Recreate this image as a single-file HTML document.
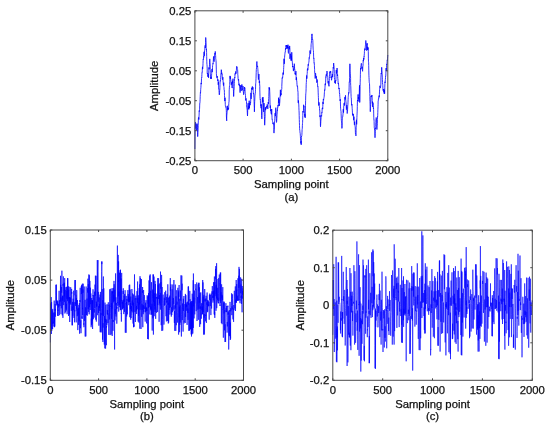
<!DOCTYPE html>
<html><head><meta charset="utf-8"><style>
html,body{margin:0;padding:0;background:#fff;width:550px;height:430px;overflow:hidden}
svg{display:block}
text{font-family:"Liberation Sans", Arial, sans-serif;font-size:11.3px;fill:#111;stroke:#111;stroke-width:0.25px}
</style></head><body>
<svg width="550" height="430" viewBox="0 0 550 430">
<rect width="550" height="430" fill="#fff"/>
<polyline points="194.9,149.0 195.0,136.4 195.1,127.7 195.2,125.8 195.3,125.0 195.4,123.6 195.5,122.2 195.6,123.0 195.7,126.0 195.8,128.6 195.9,126.8 196.0,124.6 196.1,124.0 196.2,123.8 196.2,124.4 196.3,126.3 196.4,128.4 196.5,129.8 196.6,130.3 196.7,129.1 196.8,128.8 196.9,128.9 197.0,127.0 197.1,124.4 197.2,123.7 197.3,124.6 197.4,127.7 197.5,129.9 197.6,132.8 197.7,136.6 197.8,134.3 197.9,132.2 198.0,131.2 198.1,128.9 198.2,125.5 198.3,120.9 198.4,118.7 198.5,119.0 198.6,118.1 198.7,117.3 198.8,118.9 198.9,119.5 198.9,117.7 199.1,115.1 199.2,111.7 199.2,110.7 199.3,111.6 199.4,111.0 199.5,109.7 199.6,108.1 199.7,105.1 199.8,103.0 199.9,102.8 200.0,101.8 200.1,99.2 200.2,96.7 200.3,94.4 200.4,92.5 200.5,93.1 200.6,92.2 200.7,89.5 200.8,88.2 200.9,87.5 201.0,85.8 201.1,83.1 201.2,82.8 201.3,84.1 201.4,82.5 201.5,78.6 201.6,77.5 201.7,77.8 201.8,77.6 201.8,76.7 201.9,74.4 202.0,72.7 202.1,72.3 202.2,72.5 202.3,70.6 202.4,67.6 202.5,66.8 202.6,68.6 202.7,69.0 202.8,67.8 202.9,66.2 203.0,63.7 203.1,60.8 203.2,59.2 203.3,59.6 203.4,59.7 203.5,57.6 203.6,56.4 203.7,56.9 203.8,57.4 203.9,56.1 204.0,53.0 204.1,51.8 204.2,53.9 204.3,55.9 204.4,55.0 204.4,52.8 204.6,50.9 204.7,50.0 204.7,49.3 204.8,48.3 204.9,46.5 205.0,45.6 205.1,45.4 205.2,45.5 205.3,46.5 205.4,47.9 205.5,46.7 205.6,42.4 205.7,37.5 205.8,38.3 205.9,40.8 206.0,42.3 206.1,43.8 206.2,47.7 206.3,49.7 206.4,49.0 206.5,49.6 206.6,52.5 206.7,56.7 206.8,61.2 206.9,64.1 207.0,64.8 207.1,66.2 207.2,68.9 207.2,72.0 207.3,73.9 207.4,74.1 207.5,73.5 207.6,73.2 207.7,74.6 207.8,76.8 207.9,76.7 208.0,75.1 208.1,74.5 208.2,74.6 208.3,73.8 208.4,74.3 208.5,77.2 208.6,77.8 208.7,74.3 208.8,70.2 208.9,67.7 209.0,67.4 209.1,68.9 209.2,69.3 209.3,67.8 209.4,66.3 209.5,64.7 209.6,62.2 209.7,59.6 209.8,58.9 209.9,60.5 209.9,62.1 210.1,63.8 210.2,66.2 210.2,69.5 210.3,72.7 210.4,73.5 210.5,74.7 210.6,76.9 210.7,78.7 210.8,78.3 210.9,76.8 211.0,77.8 211.1,79.0 211.2,78.6 211.3,78.8 211.4,78.4 211.5,76.8 211.6,75.2 211.7,73.5 211.8,70.8 211.9,69.2 212.0,69.2 212.1,69.8 212.2,71.5 212.3,72.1 212.4,70.8 212.5,67.7 212.6,65.5 212.7,65.3 212.8,64.9 212.8,63.8 212.9,63.5 213.0,64.0 213.1,64.0 213.2,62.6 213.3,61.2 213.4,59.0 213.5,56.9 213.6,56.4 213.7,57.0 213.8,59.0 213.9,60.6 214.0,60.7 214.1,61.3 214.2,61.6 214.3,60.2 214.4,58.2 214.5,55.9 214.6,54.3 214.7,53.9 214.8,53.2 214.9,53.8 215.0,54.4 215.1,53.9 215.2,51.7 215.3,51.4 215.4,52.8 215.4,54.1 215.6,55.5 215.7,57.2 215.7,58.3 215.8,59.0 215.9,59.5 216.0,60.7 216.1,62.0 216.2,65.0 216.3,69.1 216.4,73.7 216.5,75.5 216.6,75.3 216.7,76.7 216.8,77.2 216.9,77.3 217.0,77.9 217.1,77.0 217.2,76.0 217.3,77.2 217.4,78.7 217.5,78.8 217.6,78.9 217.7,80.6 217.8,81.0 217.9,79.6 218.0,79.5 218.1,80.8 218.2,82.8 218.2,84.7 218.3,83.8 218.4,81.8 218.5,82.3 218.6,86.0 218.7,89.1 218.8,89.1 218.9,89.1 219.0,90.5 219.1,92.6 219.2,94.5 219.3,94.3 219.4,94.8 219.5,94.5 219.6,92.2 219.7,90.5 219.8,90.0 219.9,87.8 220.0,84.4 220.1,81.6 220.2,80.6 220.3,81.2 220.4,81.3 220.5,80.7 220.6,79.7 220.7,77.8 220.8,76.0 220.9,75.1 220.9,73.8 221.1,72.5 221.2,72.3 221.2,71.6 221.3,69.7 221.4,70.0 221.5,72.4 221.6,74.0 221.7,73.1 221.8,72.7 221.9,73.8 222.0,74.3 222.1,74.0 222.2,76.0 222.3,78.0 222.4,78.5 222.5,79.7 222.6,79.6 222.7,78.4 222.8,77.5 222.9,77.2 223.0,79.3 223.1,82.0 223.2,82.8 223.3,84.4 223.4,85.3 223.5,85.5 223.6,84.0 223.7,82.6 223.8,84.3 223.8,86.4 223.9,86.6 224.0,87.6 224.1,89.7 224.2,89.9 224.3,89.9 224.4,92.4 224.5,95.5 224.6,97.4 224.7,99.8 224.8,101.1 224.9,99.6 225.0,97.7 225.1,98.4 225.2,101.5 225.3,104.5 225.4,105.8 225.5,106.1 225.6,106.4 225.7,107.0 225.8,107.3 225.9,107.1 226.0,106.6 226.1,107.3 226.2,109.0 226.3,110.5 226.4,112.7 226.4,116.1 226.6,119.4 226.7,120.8 226.7,118.6 226.8,115.5 226.9,114.7 227.0,113.7 227.1,112.5 227.2,111.4 227.3,108.0 227.4,105.8 227.5,107.8 227.6,109.9 227.7,110.2 227.8,108.4 227.9,107.8 228.0,108.6 228.1,108.1 228.2,108.7 228.3,109.7 228.4,108.7 228.5,108.1 228.6,108.6 228.7,106.2 228.8,103.5 228.9,102.2 229.0,101.9 229.1,99.9 229.2,95.0 229.2,91.0 229.3,89.2 229.4,87.2 229.5,85.8 229.6,85.6 229.7,84.6 229.8,81.8 229.9,78.4 230.0,75.9 230.1,77.0 230.2,78.7 230.3,77.8 230.4,76.5 230.5,77.2 230.6,79.2 230.7,79.6 230.8,79.6 230.9,81.2 231.0,82.5 231.1,82.8 231.2,83.4 231.3,84.8 231.4,84.4 231.5,82.9 231.6,82.3 231.7,83.3 231.8,84.6 231.9,85.4 232.0,86.6 232.1,87.8 232.2,88.0 232.2,86.2 232.3,82.8 232.4,80.8 232.5,82.0 232.6,83.4 232.7,83.0 232.8,81.8 232.9,80.0 233.0,78.7 233.1,81.9 233.2,86.5 233.3,88.8 233.4,89.6 233.5,91.8 233.6,96.5 233.7,96.3 233.8,93.5 233.9,90.7 234.0,90.1 234.1,89.0 234.2,86.2 234.3,83.3 234.4,81.3 234.5,80.0 234.6,78.4 234.7,77.4 234.8,78.0 234.8,78.1 234.9,76.4 235.0,73.7 235.1,73.8 235.2,74.3 235.3,73.5 235.4,73.6 235.5,73.9 235.6,72.9 235.7,71.5 235.8,71.9 235.9,73.5 236.0,73.7 236.1,72.2 236.2,71.2 236.3,71.2 236.4,70.3 236.5,67.8 236.6,66.5 236.7,66.8 236.8,66.5 236.9,66.9 237.0,68.0 237.1,68.0 237.2,67.7 237.3,68.3 237.4,68.6 237.5,69.3 237.6,69.5 237.7,71.0 237.8,73.8 237.8,74.8 237.9,75.2 238.0,77.0 238.1,78.6 238.2,79.3 238.3,80.1 238.4,80.5 238.5,79.5 238.6,79.1 238.7,80.8 238.8,83.6 238.9,85.2 239.0,85.0 239.1,83.9 239.2,83.7 239.3,84.5 239.4,85.0 239.5,86.0 239.6,86.0 239.7,85.1 239.8,85.6 239.9,88.1 240.0,91.6 240.1,92.6 240.2,89.9 240.2,86.6 240.3,85.3 240.4,87.0 240.5,88.2 240.6,88.5 240.7,88.8 240.8,88.4 240.9,89.1 241.0,90.0 241.1,89.8 241.2,90.9 241.3,90.1 241.4,86.8 241.5,85.7 241.6,86.8 241.7,86.2 241.8,84.6 241.9,84.4 242.0,85.0 242.1,86.1 242.2,87.5 242.3,88.8 242.4,90.2 242.5,90.2 242.6,89.5 242.7,89.5 242.8,89.2 242.9,87.2 243.0,86.1 243.1,87.7 243.2,89.9 243.2,91.4 243.3,91.5 243.4,91.9 243.5,93.4 243.6,94.7 243.7,94.1 243.8,93.3 243.9,92.1 244.0,91.0 244.1,90.5 244.2,90.3 244.3,90.9 244.4,90.7 244.5,88.3 244.6,87.0 244.7,88.1 244.8,88.8 244.9,88.4 245.0,89.4 245.1,91.9 245.2,93.8 245.3,94.2 245.4,94.2 245.5,95.6 245.6,98.4 245.7,100.4 245.8,100.3 245.8,99.7 245.9,99.1 246.0,98.3 246.1,98.7 246.2,99.9 246.3,100.9 246.4,100.8 246.5,101.6 246.6,104.7 246.7,107.1 246.8,107.0 246.9,107.6 247.0,108.9 247.1,109.5 247.2,110.2 247.3,112.6 247.4,114.5 247.5,115.9 247.6,113.9 247.7,110.1 247.8,107.8 247.9,105.2 248.0,103.7 248.1,103.2 248.2,103.2 248.3,104.4 248.4,107.5 248.5,109.1 248.6,108.5 248.7,107.7 248.8,106.3 248.8,107.1 248.9,109.4 249.0,107.5 249.1,102.4 249.2,100.7 249.3,104.6 249.4,108.0 249.5,107.0 249.6,105.4 249.7,104.0 249.8,102.9 249.9,103.8 250.0,105.1 250.1,105.1 250.2,104.2 250.3,103.4 250.4,102.5 250.5,102.0 250.6,102.6 250.7,100.9 250.8,96.1 250.9,92.9 251.0,94.3 251.1,97.2 251.2,98.8 251.2,97.7 251.3,93.2 251.4,90.8 251.5,89.5 251.6,87.8 251.7,88.2 251.8,88.6 251.9,89.2 252.0,89.7 252.1,89.5 252.2,88.2 252.3,86.5 252.4,86.5 252.5,87.3 252.6,88.5 252.7,89.4 252.8,88.3 252.9,87.2 253.0,87.8 253.1,89.6 253.2,91.2 253.3,92.2 253.4,93.7 253.5,93.9 253.6,93.2 253.7,93.6 253.8,95.9 253.9,97.3 254.0,98.3 254.1,101.9 254.2,104.8 254.2,105.5 254.3,107.3 254.4,111.8 254.5,108.6 254.6,104.0 254.7,101.6 254.8,99.9 254.9,97.0 255.0,94.8 255.1,94.9 255.2,94.4 255.3,93.4 255.4,91.9 255.5,89.7 255.6,86.1 255.7,83.3 255.8,82.6 255.9,81.2 256.0,78.5 256.1,76.0 256.2,72.7 256.3,69.8 256.4,69.2 256.5,67.8 256.6,66.7 256.7,65.2 256.8,63.2 256.9,61.5 256.9,63.0 257.0,65.8 257.1,66.7 257.2,66.5 257.3,66.7 257.4,66.7 257.5,65.8 257.6,66.2 257.7,67.7 257.8,68.6 257.9,69.7 258.0,71.4 258.1,73.0 258.2,75.2 258.3,78.2 258.4,79.6 258.5,79.2 258.6,77.3 258.7,75.2 258.8,74.1 258.9,74.0 259.0,74.2 259.1,76.8 259.2,80.9 259.3,83.1 259.4,82.2 259.5,80.8 259.6,81.9 259.6,83.8 259.8,86.4 259.8,89.1 259.9,92.9 260.0,96.7 260.1,98.4 260.2,99.3 260.3,99.0 260.4,100.2 260.5,103.8 260.6,105.8 260.7,105.5 260.8,105.4 260.9,106.7 261.0,107.6 261.1,108.2 261.2,106.7 261.3,104.3 261.4,106.5 261.5,111.1 261.6,115.3 261.7,117.7 261.8,118.7 261.9,118.9 262.0,115.2 262.1,109.9 262.2,103.8 262.3,99.5 262.4,97.7 262.4,98.3 262.6,100.0 262.6,101.6 262.7,102.2 262.8,99.9 262.9,97.0 263.0,97.2 263.1,98.2 263.2,99.4 263.3,99.9 263.4,102.4 263.5,107.2 263.6,110.7 263.7,111.9 263.8,109.0 263.9,106.8 264.0,103.1 264.1,103.9 264.2,110.8 264.3,114.2 264.4,116.3 264.5,119.8 264.6,124.2 264.7,125.2 264.8,123.2 264.9,121.0 265.0,118.6 265.1,116.3 265.1,113.1 265.2,110.8 265.3,109.7 265.4,108.6 265.5,107.7 265.6,110.2 265.7,108.6 265.8,107.1 265.9,106.9 266.0,107.7 266.1,108.6 266.2,108.4 266.3,107.9 266.4,107.0 266.5,106.5 266.6,106.5 266.7,106.0 266.8,106.7 266.9,107.2 267.0,106.1 267.1,104.9 267.2,104.4 267.3,104.6 267.4,105.3 267.5,106.2 267.6,106.8 267.7,108.1 267.8,108.9 267.9,107.8 267.9,105.9 268.1,104.6 268.1,103.3 268.2,102.0 268.3,102.2 268.4,103.4 268.5,103.9 268.6,101.3 268.7,98.5 268.8,96.6 268.9,92.9 269.0,89.6 269.1,87.4 269.2,87.2 269.3,88.8 269.4,89.5 269.5,87.9 269.6,88.6 269.7,91.2 269.8,94.0 269.9,97.1 270.0,102.1 270.1,106.2 270.2,107.9 270.3,107.4 270.4,105.6 270.5,106.5 270.6,110.1 270.6,110.9 270.8,109.6 270.8,110.3 270.9,112.1 271.0,113.1 271.1,113.2 271.2,113.1 271.3,113.9 271.4,114.3 271.5,112.9 271.6,110.0 271.7,109.0 271.8,111.1 271.9,114.0 272.0,117.3 272.1,119.6 272.2,119.6 272.3,119.4 272.4,120.4 272.5,121.3 272.6,121.4 272.7,122.5 272.8,123.5 272.9,124.0 273.0,124.0 273.1,123.6 273.2,123.6 273.3,122.9 273.4,122.6 273.4,123.9 273.6,125.7 273.6,126.5 273.7,127.3 273.8,129.1 273.9,132.6 274.0,133.1 274.1,131.7 274.2,130.6 274.3,129.7 274.4,128.0 274.5,124.0 274.6,121.1 274.7,120.8 274.8,118.8 274.9,115.8 275.0,113.9 275.1,113.1 275.2,113.5 275.3,114.7 275.4,116.1 275.5,114.3 275.6,110.2 275.7,108.2 275.8,107.7 275.9,108.7 276.0,111.2 276.1,112.9 276.1,113.5 276.2,115.3 276.3,118.6 276.4,121.6 276.5,122.4 276.6,121.8 276.7,121.0 276.8,118.8 276.9,117.1 277.0,115.7 277.1,114.4 277.2,112.0 277.3,110.7 277.4,111.0 277.5,110.0 277.6,107.5 277.7,106.8 277.8,107.3 277.9,106.7 278.0,105.4 278.1,105.0 278.2,105.7 278.3,106.1 278.4,103.6 278.5,99.3 278.6,97.7 278.7,100.5 278.8,103.0 278.9,103.1 278.9,101.9 279.1,99.7 279.1,99.2 279.2,102.5 279.3,105.1 279.4,106.0 279.5,105.4 279.6,103.8 279.7,103.0 279.8,101.8 279.9,99.2 280.0,96.9 280.1,96.4 280.2,96.2 280.3,93.6 280.4,89.8 280.5,96.2 280.6,96.3 280.7,96.2 280.8,93.7 280.9,93.1 281.0,94.7 281.1,95.0 281.2,93.6 281.3,92.9 281.4,92.4 281.5,91.3 281.6,90.3 281.6,89.7 281.8,88.5 281.8,86.6 281.9,84.0 282.0,82.0 282.1,79.2 282.2,77.8 282.3,78.3 282.4,78.0 282.5,77.2 282.6,77.0 282.7,77.3 282.8,75.3 282.9,73.1 283.0,73.3 283.1,73.3 283.2,72.4 283.3,73.4 283.4,74.5 283.5,72.7 283.6,69.6 283.7,67.6 283.8,65.6 283.9,61.6 284.0,58.8 284.1,59.7 284.2,62.2 284.3,63.8 284.4,62.0 284.4,58.6 284.6,57.3 284.6,57.2 284.7,55.9 284.8,54.5 284.9,53.9 285.0,53.2 285.1,52.3 285.2,52.0 285.3,52.1 285.4,50.2 285.5,48.4 285.6,49.4 285.7,49.1 285.8,47.4 285.9,45.6 286.0,45.1 286.1,45.3 286.2,45.4 286.3,46.5 286.4,46.1 286.5,45.2 286.6,46.3 286.7,48.4 286.8,49.0 286.9,48.3 287.0,47.7 287.1,46.5 287.1,45.2 287.2,46.0 287.4,47.8 287.4,47.4 287.5,46.2 287.6,46.6 287.7,48.4 287.8,48.4 287.9,46.0 288.0,44.7 288.1,47.2 288.2,50.8 288.3,52.5 288.4,53.3 288.5,53.4 288.6,52.6 288.7,51.1 288.8,49.0 288.9,46.8 289.0,46.7 289.1,47.8 289.2,47.7 289.3,48.0 289.4,49.3 289.5,47.9 289.6,45.9 289.7,46.1 289.8,47.8 289.9,48.7 289.9,58.8 290.1,56.9 290.1,54.4 290.2,53.7 290.3,54.2 290.4,54.7 290.5,54.2 290.6,54.5 290.7,57.7 290.8,58.5 290.9,58.8 291.0,60.5 291.1,60.7 291.2,58.2 291.3,55.7 291.4,57.5 291.5,60.4 291.6,59.8 291.7,52.3 291.8,52.3 291.9,57.0 292.0,59.3 292.1,59.5 292.2,60.6 292.3,61.8 292.4,62.9 292.5,65.3 292.6,66.8 292.6,66.1 292.8,67.2 292.9,66.6 292.9,66.3 293.0,66.7 293.1,66.6 293.2,67.6 293.3,70.0 293.4,71.1 293.5,70.5 293.6,69.5 293.7,68.8 293.8,69.5 293.9,69.8 294.0,69.1 294.1,67.9 294.2,65.4 294.3,63.7 294.4,64.6 294.5,66.4 294.6,68.6 294.7,69.2 294.8,69.2 294.9,70.9 295.0,73.4 295.1,74.3 295.2,73.7 295.3,73.1 295.4,72.8 295.4,73.4 295.6,74.5 295.6,74.8 295.7,74.1 295.8,72.3 295.9,71.1 296.0,72.3 296.1,76.2 296.2,79.9 296.3,80.1 296.4,77.6 296.5,77.4 296.6,80.0 296.7,80.8 296.8,80.9 296.9,82.8 297.0,84.7 297.1,85.9 297.2,86.3 297.3,86.2 297.4,86.1 297.5,85.8 297.6,87.0 297.7,89.2 297.8,90.9 297.9,90.9 298.0,92.3 298.1,96.8 298.1,101.0 298.2,102.9 298.4,102.2 298.4,100.4 298.5,100.9 298.6,102.9 298.7,104.0 298.8,104.9 298.9,107.8 299.0,110.5 299.1,112.0 299.2,115.5 299.3,119.6 299.4,122.5 299.5,125.6 299.6,128.3 299.7,130.0 299.8,130.4 299.9,131.4 300.0,132.8 300.1,132.8 300.2,133.4 300.3,135.1 300.4,136.6 300.5,138.8 300.6,140.6 300.7,141.1 300.8,142.0 300.9,143.4 300.9,142.9 301.1,141.2 301.1,142.5 301.2,144.8 301.3,142.2 301.4,137.7 301.5,136.0 301.6,136.2 301.7,135.8 301.8,135.6 301.9,134.8 302.0,132.2 302.1,129.6 302.2,129.3 302.3,128.2 302.4,125.3 302.5,123.6 302.6,122.3 302.7,119.3 302.8,115.3 302.9,111.9 303.0,111.0 303.1,112.0 303.2,112.4 303.3,111.7 303.4,110.9 303.5,109.0 303.6,106.2 303.6,104.8 303.8,105.8 303.9,107.1 303.9,107.0 304.0,106.4 304.1,107.0 304.2,108.7 304.3,110.8 304.4,112.0 304.5,113.4 304.6,115.2 304.7,116.7 304.8,116.5 304.9,114.1 305.0,113.9 305.1,117.9 305.2,117.8 305.3,114.6 305.4,110.0 305.5,105.5 305.6,100.5 305.7,95.9 305.8,93.8 305.9,92.7 306.0,91.2 306.1,88.7 306.2,84.3 306.3,82.5 306.4,82.4 306.4,79.8 306.6,76.7 306.6,75.5 306.7,76.9 306.8,78.7 306.9,78.0 307.0,75.9 307.1,74.3 307.2,73.5 307.3,71.5 307.4,69.1 307.5,68.5 307.6,69.7 307.7,70.3 307.8,69.6 307.9,69.8 308.0,69.1 308.1,65.9 308.2,64.3 308.3,65.5 308.4,65.5 308.5,64.3 308.6,63.4 308.7,62.7 308.8,62.4 308.9,61.8 309.0,60.6 309.1,58.5 309.1,57.6 309.2,58.0 309.4,58.4 309.4,58.4 309.5,57.4 309.6,56.1 309.7,55.2 309.8,53.3 309.9,51.1 310.0,50.5 310.1,51.0 310.2,51.9 310.3,53.2 310.4,53.8 310.5,53.9 310.6,53.7 310.7,51.9 310.8,49.9 310.9,49.3 311.0,47.5 311.1,44.7 311.2,43.7 311.3,43.3 311.4,42.0 311.5,40.6 311.6,38.8 311.7,36.6 311.8,34.3 311.9,33.9 311.9,34.3 312.1,34.2 312.1,34.1 312.2,36.5 312.3,39.1 312.4,39.4 312.5,39.0 312.6,39.5 312.7,39.5 312.8,40.5 312.9,42.9 313.0,45.9 313.1,48.1 313.2,49.4 313.3,50.3 313.4,50.5 313.5,52.3 313.6,56.1 313.7,58.5 313.8,58.0 313.9,58.3 314.0,61.5 314.1,63.2 314.2,62.8 314.3,63.3 314.4,65.4 314.5,68.0 314.6,69.4 314.6,70.8 314.8,73.4 314.9,73.8 314.9,73.7 315.0,74.7 315.1,76.7 315.2,78.5 315.3,77.4 315.4,74.7 315.5,73.2 315.6,73.3 315.7,74.2 315.8,75.3 315.9,76.3 316.0,78.0 316.1,78.1 316.2,78.1 316.3,77.8 316.4,76.3 316.5,77.5 316.6,80.4 316.7,81.9 316.8,82.6 316.9,82.7 317.0,81.9 317.1,80.8 317.2,79.5 317.3,80.3 317.4,82.6 317.4,82.8 317.6,83.8 317.6,86.3 317.7,86.5 317.8,86.0 317.9,86.5 318.0,88.0 318.1,90.0 318.2,92.9 318.3,95.3 318.4,97.4 318.5,100.1 318.6,103.2 318.7,105.5 318.8,104.5 318.9,102.6 319.0,102.6 319.1,102.4 319.2,103.2 319.3,105.5 319.4,106.8 319.5,108.4 319.6,110.0 319.7,110.0 319.8,111.0 319.9,114.3 320.0,117.0 320.1,116.6 320.1,115.4 320.2,116.9 320.4,121.1 320.4,125.2 320.5,126.7 320.6,125.4 320.7,123.8 320.8,121.7 320.9,120.5 321.0,119.1 321.1,117.2 321.2,116.8 321.3,116.3 321.4,115.5 321.5,116.1 321.6,116.3 321.7,114.7 321.8,112.3 321.9,112.2 322.0,112.7 322.1,110.9 322.2,108.4 322.3,108.2 322.4,108.4 322.5,107.8 322.6,108.4 322.7,109.1 322.8,106.6 322.9,103.5 322.9,101.9 323.1,102.8 323.1,104.0 323.2,102.3 323.3,99.7 323.4,99.0 323.5,100.1 323.6,100.2 323.7,99.2 323.8,98.5 323.9,97.7 324.0,97.5 324.1,97.4 324.2,96.2 324.3,94.1 324.4,92.8 324.5,91.4 324.6,89.7 324.7,89.7 324.8,90.3 324.9,89.6 325.0,87.3 325.1,85.3 325.2,83.7 325.3,85.2 325.4,84.7 325.5,84.4 325.6,82.7 325.7,80.0 325.8,77.7 325.9,76.7 325.9,77.4 326.0,77.0 326.1,75.6 326.2,74.5 326.3,74.9 326.4,75.8 326.5,75.0 326.6,73.3 326.7,73.0 326.8,72.2 326.9,71.1 327.0,71.0 327.1,71.3 327.2,71.6 327.3,72.6 327.4,74.4 327.5,75.5 327.6,75.5 327.7,75.7 327.8,77.6 327.9,80.7 328.0,82.9 328.1,83.3 328.2,83.4 328.3,82.0 328.4,81.1 328.4,81.6 328.6,82.3 328.6,83.9 328.7,85.1 328.8,85.0 328.9,85.7 329.0,86.3 329.1,84.3 329.2,82.0 329.3,80.4 329.4,78.4 329.5,76.5 329.6,74.1 329.7,72.2 329.8,72.1 329.9,71.5 330.0,71.5 330.1,73.0 330.2,73.0 330.3,72.2 330.4,72.2 330.5,71.6 330.6,71.0 330.7,71.0 330.8,72.6 330.9,75.1 331.0,76.5 331.1,77.6 331.2,78.0 331.2,77.1 331.4,76.5 331.4,78.2 331.5,80.2 331.6,80.2 331.7,79.2 331.8,78.5 331.9,78.3 332.0,78.0 332.1,77.0 332.2,75.4 332.3,74.1 332.4,74.2 332.5,75.8 332.6,77.0 332.7,75.8 332.8,73.1 332.9,71.2 333.0,70.8 333.1,69.3 333.2,67.3 333.3,67.7 333.4,68.3 333.5,66.4 333.6,63.1 333.7,63.2 333.8,64.9 333.9,65.1 333.9,65.8 334.1,67.0 334.1,67.8 334.2,69.6 334.3,73.6 334.4,77.6 334.5,79.1 334.6,79.3 334.7,80.2 334.8,82.2 334.9,83.0 335.0,82.1 335.1,80.8 335.2,81.1 335.3,82.1 335.4,83.6 335.5,82.2 335.6,80.4 335.7,80.6 335.8,81.0 335.9,79.6 336.0,76.7 336.1,73.3 336.2,70.8 336.3,70.0 336.4,71.5 336.5,73.5 336.6,73.2 336.7,71.6 336.8,70.8 336.9,71.3 336.9,70.2 337.0,68.0 337.1,68.1 337.2,70.1 337.3,73.2 337.4,75.8 337.5,75.6 337.6,74.7 337.7,76.4 337.8,78.6 337.9,79.0 338.0,80.4 338.1,82.5 338.2,83.8 338.3,83.4 338.4,82.9 338.5,83.8 338.6,85.1 338.7,86.5 338.8,87.9 338.9,89.1 339.0,88.7 339.1,88.0 339.2,88.1 339.3,89.4 339.4,91.1 339.4,92.8 339.6,93.8 339.6,93.5 339.7,94.5 339.8,96.6 339.9,97.3 340.0,98.5 340.1,101.0 340.2,100.7 340.3,99.3 340.4,101.9 340.5,106.1 340.6,108.2 340.7,109.2 340.8,110.5 340.9,110.5 341.0,111.3 341.1,113.5 341.2,116.0 341.3,118.7 341.4,120.6 341.5,121.8 341.6,122.8 341.7,123.2 341.8,125.2 341.9,128.4 342.0,128.1 342.1,125.8 342.2,123.0 342.2,120.9 342.4,119.8 342.4,118.7 342.5,117.3 342.6,116.8 342.7,116.9 342.8,116.1 342.9,115.0 343.0,114.2 343.1,112.5 343.2,109.5 343.3,109.2 343.4,112.0 343.5,112.6 343.6,110.5 343.7,108.0 343.8,105.3 343.9,103.8 344.0,103.5 344.1,103.1 344.2,103.2 344.3,102.9 344.4,103.9 344.5,105.5 344.6,104.4 344.7,101.3 344.8,99.2 344.9,97.2 344.9,97.1 345.1,98.8 345.1,99.5 345.2,98.4 345.3,97.7 345.4,96.5 345.5,95.4 345.6,96.9 345.7,99.7 345.8,100.5 345.9,101.3 346.0,102.0 346.1,102.8 346.2,105.7 346.3,108.5 346.4,109.6 346.5,108.7 346.6,106.5 346.7,105.2 346.8,105.2 346.9,106.0 347.0,108.5 347.1,112.0 347.2,113.5 347.3,112.8 347.4,112.2 347.5,111.5 347.6,109.3 347.7,106.8 347.8,105.2 347.9,105.2 347.9,104.3 348.0,102.1 348.1,99.5 348.2,97.5 348.3,96.3 348.4,95.2 348.5,93.9 348.6,92.5 348.7,92.6 348.8,93.3 348.9,93.3 349.0,91.5 349.1,87.9 349.2,83.9 349.3,81.8 349.4,82.2 349.5,81.9 349.6,77.3 349.7,70.0 349.8,66.0 349.9,63.8 350.0,65.7 350.1,69.2 350.2,71.9 350.3,73.8 350.4,75.1 350.5,76.1 350.6,78.5 350.6,82.4 350.7,85.4 350.8,86.9 350.9,90.0 351.0,93.8 351.1,96.3 351.2,97.7 351.3,98.0 351.4,99.9 351.5,103.0 351.6,105.2 351.7,105.3 351.8,104.8 351.9,104.2 352.0,105.1 352.1,107.1 352.2,108.7 352.3,110.1 352.4,112.1 352.5,114.5 352.6,114.8 352.7,113.8 352.8,114.9 352.9,115.6 353.0,115.7 353.1,116.1 353.2,115.6 353.2,114.2 353.4,113.9 353.4,115.3 353.5,117.8 353.6,119.8 353.7,120.2 353.8,118.9 353.9,116.9 354.0,116.7 354.1,119.2 354.2,121.7 354.3,123.6 354.4,124.7 354.5,123.7 354.6,121.8 354.7,121.6 354.8,124.0 354.9,125.7 355.0,126.1 355.1,126.6 355.2,126.9 355.3,129.3 355.4,132.8 355.5,134.2 355.6,134.3 355.7,134.5 355.8,134.9 355.9,135.9 356.0,135.3 356.1,132.9 356.1,130.2 356.2,127.3 356.3,123.3 356.4,119.8 356.5,120.5 356.6,124.0 356.7,124.3 356.8,120.7 356.9,117.6 357.0,115.3 357.1,113.1 357.2,111.1 357.3,106.7 357.4,101.9 357.5,99.9 357.6,101.1 357.7,101.0 357.8,99.3 357.9,96.4 358.0,94.9 358.1,94.4 358.2,95.0 358.3,96.9 358.4,98.9 358.5,98.0 358.6,97.1 358.7,98.7 358.8,100.7 358.9,101.3 358.9,101.6 359.0,99.9 359.1,96.2 359.2,94.6 359.3,92.5 359.4,88.3 359.5,85.3 359.6,91.9 359.7,102.5 359.8,101.5 359.9,96.0 360.0,91.0 360.1,86.3 360.2,82.2 360.3,78.6 360.4,74.3 360.5,68.7 360.6,68.0 360.7,69.4 360.8,68.3 360.9,66.0 361.0,65.5 361.1,65.3 361.2,64.0 361.3,63.3 361.4,63.4 361.5,63.7 361.6,64.3 361.6,65.6 361.8,66.7 361.8,67.6 361.9,68.5 362.0,67.6 362.1,66.9 362.2,68.2 362.3,69.5 362.4,69.6 362.5,70.5 362.6,71.3 362.7,69.4 362.8,67.1 362.9,66.2 363.0,65.8 363.1,63.5 363.2,60.6 363.3,59.9 363.4,61.2 363.5,60.5 363.6,58.0 363.7,58.0 363.8,59.6 363.9,59.1 364.0,56.7 364.1,56.3 364.2,56.7 364.2,55.2 364.4,53.2 364.4,51.5 364.5,50.5 364.6,50.8 364.7,50.1 364.8,48.6 364.9,49.1 365.0,50.0 365.1,49.3 365.2,47.8 365.3,46.5 365.4,45.7 365.5,44.9 365.6,44.2 365.7,41.6 365.8,40.5 365.9,41.0 366.0,42.3 366.1,43.4 366.2,44.7 366.3,46.9 366.4,49.6 366.5,50.5 366.6,49.7 366.7,48.6 366.8,46.0 366.9,44.1 367.0,44.3 367.1,44.5 367.1,43.1 367.2,43.8 367.3,47.4 367.4,50.1 367.5,49.0 367.6,46.8 367.7,47.8 367.8,49.6 367.9,48.9 368.0,47.6 368.1,47.5 368.2,48.1 368.3,51.6 368.4,58.9 368.5,61.8 368.6,62.2 368.7,65.4 368.8,70.9 368.9,75.2 369.0,77.5 369.1,79.2 369.2,81.2 369.3,82.8 369.4,82.9 369.5,83.4 369.6,86.1 369.7,89.9 369.8,93.5 369.9,96.4 369.9,99.1 370.0,101.3 370.1,104.0 370.2,108.6 370.3,111.7 370.4,109.0 370.5,107.1 370.6,106.3 370.7,104.6 370.8,102.0 370.9,99.1 371.0,96.6 371.1,95.9 371.2,97.0 371.3,97.0 371.4,95.8 371.5,95.9 371.6,96.5 371.7,96.1 371.8,95.5 371.9,95.0 372.0,95.0 372.1,97.1 372.2,100.5 372.3,103.3 372.4,103.0 372.5,101.7 372.6,103.2 372.6,106.1 372.8,107.0 372.8,105.3 372.9,103.4 373.0,102.7 373.1,103.9 373.2,105.6 373.3,107.4 373.4,108.5 373.5,107.7 373.6,109.4 373.7,113.9 373.8,117.8 373.9,119.8 374.0,119.7 374.1,121.4 374.2,125.2 374.3,127.9 374.4,128.1 374.5,129.0 374.6,130.2 374.7,130.2 374.8,132.0 374.9,135.8 375.0,137.7 375.1,136.3 375.2,133.7 375.3,131.5 375.4,129.3 375.4,128.2 375.5,128.7 375.6,128.9 375.7,126.5 375.8,122.6 375.9,119.9 376.0,118.9 376.1,117.9 376.2,117.5 376.3,117.9 376.4,118.1 376.5,118.6 376.6,121.0 376.7,124.8 376.8,128.2 376.9,129.5 377.0,127.5 377.1,126.3 377.2,125.5 377.3,123.6 377.4,119.4 377.5,116.7 377.6,117.0 377.7,115.8 377.8,112.4 377.9,109.2 378.0,106.8 378.1,104.2 378.1,101.9 378.2,100.8 378.3,100.8 378.4,99.3 378.5,98.7 378.6,99.2 378.7,98.4 378.8,97.0 378.9,96.5 379.0,96.2 379.1,95.6 379.2,96.5 379.3,97.2 379.4,94.7 379.5,91.1 379.6,89.4 379.7,88.9 379.8,87.2 379.9,85.8 380.0,86.0 380.1,86.9 380.2,87.6 380.3,87.6 380.4,87.9 380.5,87.0 380.6,86.6 380.7,86.1 380.8,84.8 380.9,82.1 380.9,77.8 381.1,74.7 381.1,73.8 381.2,73.1 381.3,73.6 381.4,74.1 381.5,72.2 381.6,69.2 381.7,67.3 381.8,69.1 381.9,70.4 382.0,71.3 382.1,73.3 382.2,75.0 382.3,77.1 382.4,79.7 382.5,82.5 382.6,84.1 382.7,84.3 382.8,85.4 382.9,88.1 383.0,90.1 383.1,90.4 383.2,89.9 383.3,90.4 383.4,90.3 383.5,89.0 383.6,89.3 383.6,90.8 383.8,92.2 383.8,92.0 383.9,91.2 384.0,91.6 384.1,92.4 384.2,93.7 384.3,92.5 384.4,89.7 384.5,90.8 384.6,93.7 384.7,91.5 384.8,87.3 384.9,83.7 385.0,81.8 385.1,82.8 385.2,82.0 385.3,79.9 385.4,79.3 385.5,77.5 385.6,75.9 385.7,76.1 385.8,75.4 385.9,73.2 386.0,70.7 386.1,68.2 386.2,68.0 386.3,70.2 386.4,71.0 386.4,69.4 386.6,67.2 386.6,65.2 386.7,63.9 386.8,64.0 386.9,64.6 387.0,63.5 387.1,62.0 387.2,60.4 387.3,59.9 387.4,60.6 387.5,58.9 387.6,57.0 387.7,56.2 387.8,55.0" fill="none" stroke="#0000ff" stroke-width="0.8" stroke-linejoin="round"/>
<rect x="194.9" y="10.8" width="192.9" height="149.9" fill="none" stroke="#4a4a4a" stroke-width="1"/>
<line x1="194.9" y1="160.7" x2="194.9" y2="158.7" stroke="#4a4a4a" stroke-width="1"/>
<line x1="194.9" y1="10.8" x2="194.9" y2="12.8" stroke="#4a4a4a" stroke-width="1"/>
<text x="194.9" y="174.0" text-anchor="middle">0</text>
<line x1="243.1" y1="160.7" x2="243.1" y2="158.7" stroke="#4a4a4a" stroke-width="1"/>
<line x1="243.1" y1="10.8" x2="243.1" y2="12.8" stroke="#4a4a4a" stroke-width="1"/>
<text x="243.1" y="174.0" text-anchor="middle">500</text>
<line x1="291.4" y1="160.7" x2="291.4" y2="158.7" stroke="#4a4a4a" stroke-width="1"/>
<line x1="291.4" y1="10.8" x2="291.4" y2="12.8" stroke="#4a4a4a" stroke-width="1"/>
<text x="291.4" y="174.0" text-anchor="middle">1000</text>
<line x1="339.6" y1="160.7" x2="339.6" y2="158.7" stroke="#4a4a4a" stroke-width="1"/>
<line x1="339.6" y1="10.8" x2="339.6" y2="12.8" stroke="#4a4a4a" stroke-width="1"/>
<text x="339.6" y="174.0" text-anchor="middle">1500</text>
<line x1="387.8" y1="160.7" x2="387.8" y2="158.7" stroke="#4a4a4a" stroke-width="1"/>
<line x1="387.8" y1="10.8" x2="387.8" y2="12.8" stroke="#4a4a4a" stroke-width="1"/>
<text x="387.8" y="174.0" text-anchor="middle">2000</text>
<line x1="194.9" y1="160.7" x2="196.9" y2="160.7" stroke="#4a4a4a" stroke-width="1"/>
<line x1="387.8" y1="160.7" x2="385.8" y2="160.7" stroke="#4a4a4a" stroke-width="1"/>
<text x="191.3" y="164.6" text-anchor="end">-0.25</text>
<line x1="194.9" y1="130.7" x2="196.9" y2="130.7" stroke="#4a4a4a" stroke-width="1"/>
<line x1="387.8" y1="130.7" x2="385.8" y2="130.7" stroke="#4a4a4a" stroke-width="1"/>
<text x="191.3" y="134.6" text-anchor="end">-0.15</text>
<line x1="194.9" y1="100.7" x2="196.9" y2="100.7" stroke="#4a4a4a" stroke-width="1"/>
<line x1="387.8" y1="100.7" x2="385.8" y2="100.7" stroke="#4a4a4a" stroke-width="1"/>
<text x="191.3" y="104.6" text-anchor="end">-0.05</text>
<line x1="194.9" y1="70.8" x2="196.9" y2="70.8" stroke="#4a4a4a" stroke-width="1"/>
<line x1="387.8" y1="70.8" x2="385.8" y2="70.8" stroke="#4a4a4a" stroke-width="1"/>
<text x="191.3" y="74.7" text-anchor="end">0.05</text>
<line x1="194.9" y1="40.8" x2="196.9" y2="40.8" stroke="#4a4a4a" stroke-width="1"/>
<line x1="387.8" y1="40.8" x2="385.8" y2="40.8" stroke="#4a4a4a" stroke-width="1"/>
<text x="191.3" y="44.7" text-anchor="end">0.15</text>
<line x1="194.9" y1="10.8" x2="196.9" y2="10.8" stroke="#4a4a4a" stroke-width="1"/>
<line x1="387.8" y1="10.8" x2="385.8" y2="10.8" stroke="#4a4a4a" stroke-width="1"/>
<text x="191.3" y="14.7" text-anchor="end">0.25</text>
<text x="291.4" y="188.2" text-anchor="middle" font-size="11.6">Sampling point</text>
<text x="291.4" y="200.7" text-anchor="middle" font-size="11.6">(a)</text>
<text transform="translate(158.2,85.8) rotate(-90)" text-anchor="middle" font-size="11.6">Amplitude</text>
<polyline points="50.3,342.4 50.4,342.4 50.5,325.1 50.6,308.4 50.7,303.4 50.8,311.7 50.9,326.6 51.0,324.1 51.1,304.9 51.2,297.1 51.3,310.0 51.4,334.0 51.5,324.1 51.6,302.1 51.6,312.4 51.8,330.4 51.9,327.4 51.9,328.5 52.0,326.3 52.1,323.0 52.2,318.8 52.3,310.5 52.4,312.7 52.5,315.0 52.6,329.0 52.7,308.9 52.8,323.8 52.9,323.9 53.0,322.6 53.1,321.8 53.2,323.3 53.3,315.9 53.4,312.6 53.5,317.5 53.6,323.0 53.7,322.9 53.8,326.5 53.9,324.8 54.0,316.7 54.1,313.1 54.2,300.6 54.3,305.7 54.4,321.9 54.5,317.9 54.5,327.2 54.6,312.4 54.8,315.7 54.8,326.5 54.9,318.3 55.0,307.3 55.1,304.1 55.2,310.8 55.3,308.9 55.4,315.6 55.5,316.6 55.6,308.9 55.7,295.7 55.8,289.4 55.9,284.8 56.0,290.2 56.1,294.0 56.2,298.0 56.3,305.4 56.4,284.6 56.5,296.7 56.6,301.7 56.7,303.0 56.8,301.4 56.9,300.4 57.0,304.0 57.1,304.0 57.2,301.5 57.3,303.5 57.4,305.3 57.5,303.1 57.5,311.5 57.6,315.8 57.7,310.4 57.8,300.7 57.9,304.2 58.0,310.8 58.1,309.8 58.2,316.0 58.3,309.8 58.4,309.9 58.5,304.1 58.6,307.4 58.7,305.8 58.8,302.8 58.9,302.8 59.0,297.1 59.1,290.8 59.2,303.4 59.3,314.1 59.4,315.2 59.5,307.1 59.6,301.9 59.7,300.1 59.8,302.7 59.9,304.9 60.0,306.0 60.1,303.9 60.2,300.5 60.2,299.9 60.4,290.0 60.5,275.8 60.5,290.6 60.6,301.5 60.7,284.7 60.8,290.1 60.9,300.2 61.0,314.2 61.1,297.3 61.2,304.7 61.3,308.3 61.4,307.5 61.5,297.6 61.6,287.0 61.7,292.7 61.8,284.6 61.9,270.7 62.0,300.2 62.1,302.0 62.2,305.9 62.3,315.4 62.4,313.9 62.5,301.5 62.6,296.1 62.7,300.6 62.8,295.6 62.9,317.9 63.0,285.9 63.1,284.1 63.1,285.7 63.2,282.3 63.4,276.4 63.4,284.2 63.5,291.3 63.6,294.6 63.7,305.1 63.8,301.1 63.9,289.6 64.0,283.6 64.1,282.6 64.2,296.2 64.3,301.9 64.4,283.2 64.5,285.2 64.6,296.4 64.7,278.1 64.8,299.6 64.9,313.5 65.0,308.9 65.1,298.5 65.2,289.9 65.3,299.4 65.4,302.9 65.5,302.6 65.6,304.6 65.7,312.3 65.8,295.7 65.9,287.2 66.0,293.1 66.0,306.0 66.2,308.8 66.2,303.9 66.3,306.0 66.4,310.5 66.5,306.6 66.6,286.8 66.7,288.4 66.8,298.8 66.9,291.1 67.0,294.4 67.1,314.2 67.2,312.2 67.3,302.6 67.4,296.4 67.5,278.1 67.6,300.9 67.7,293.6 67.8,278.2 67.9,278.7 68.0,297.9 68.1,298.9 68.2,286.2 68.3,300.3 68.4,305.8 68.5,316.0 68.6,292.9 68.7,289.7 68.8,296.6 68.9,303.3 69.0,298.2 69.0,291.2 69.2,286.8 69.2,299.4 69.3,314.7 69.4,309.4 69.5,297.2 69.6,308.6 69.7,322.0 69.8,313.7 69.9,300.5 70.0,297.2 70.1,302.7 70.2,298.4 70.3,297.8 70.4,304.5 70.5,299.7 70.6,289.2 70.7,287.2 70.8,292.4 70.9,295.6 71.0,296.0 71.1,300.8 71.2,307.1 71.3,310.8 71.4,305.6 71.5,297.0 71.6,288.9 71.7,293.7 71.8,292.3 71.8,292.1 72.0,297.6 72.0,302.3 72.1,325.3 72.2,308.4 72.3,306.6 72.4,325.2 72.5,318.9 72.6,301.9 72.7,306.9 72.8,315.8 72.9,313.6 73.0,307.7 73.1,298.8 73.2,299.2 73.3,307.2 73.4,310.2 73.5,302.3 73.6,290.7 73.7,292.6 73.8,297.5 73.9,308.5 74.0,317.9 74.1,313.1 74.2,302.2 74.3,306.1 74.4,318.4 74.5,322.3 74.6,312.7 74.7,310.2 74.8,311.3 74.8,308.9 75.0,280.0 75.0,295.3 75.1,286.9 75.2,281.7 75.3,280.1 75.4,290.4 75.5,305.2 75.6,305.9 75.7,302.3 75.8,303.9 75.9,295.1 76.0,294.9 76.1,316.9 76.2,322.4 76.3,302.2 76.4,298.0 76.5,304.3 76.6,308.9 76.7,290.1 76.8,291.4 76.9,305.8 77.0,310.8 77.1,308.9 77.2,310.7 77.3,316.1 77.4,314.8 77.5,300.1 77.5,302.3 77.7,307.2 77.8,317.7 77.8,330.1 77.9,315.5 78.0,311.4 78.1,312.6 78.2,313.2 78.3,314.5 78.4,307.7 78.5,316.7 78.6,324.9 78.7,320.8 78.8,307.9 78.9,304.9 79.0,317.3 79.1,321.3 79.2,309.3 79.3,309.5 79.4,303.0 79.5,307.7 79.6,333.7 79.7,315.1 79.8,304.2 79.9,300.0 80.0,302.2 80.1,292.6 80.2,287.8 80.3,306.8 80.4,323.4 80.5,328.2 80.5,328.1 80.7,323.4 80.7,322.9 80.8,322.0 80.9,320.3 81.0,333.2 81.1,321.5 81.2,290.2 81.3,286.1 81.4,294.2 81.5,292.0 81.6,284.8 81.7,294.5 81.8,310.2 81.9,318.4 82.0,316.4 82.1,317.6 82.2,318.9 82.3,316.8 82.4,283.7 82.5,309.1 82.6,307.8 82.7,315.1 82.8,307.6 82.9,289.4 83.0,292.8 83.1,288.5 83.2,283.7 83.3,285.3 83.3,300.6 83.5,317.2 83.5,317.2 83.6,318.8 83.7,324.6 83.8,323.4 83.9,327.2 84.0,326.4 84.1,313.9 84.2,286.5 84.3,317.9 84.4,320.9 84.5,318.0 84.6,315.2 84.7,313.4 84.8,311.5 84.9,310.2 85.0,303.6 85.1,299.8 85.2,336.5 85.3,313.6 85.4,313.3 85.5,307.4 85.6,308.8 85.7,318.3 85.8,336.4 85.9,336.4 86.0,313.7 86.1,286.5 86.2,287.4 86.2,291.7 86.3,301.4 86.5,310.8 86.5,315.2 86.6,307.2 86.7,307.1 86.8,303.1 86.9,300.9 87.0,298.8 87.1,298.6 87.2,308.9 87.3,314.3 87.4,315.6 87.5,306.7 87.6,288.2 87.7,292.6 87.8,283.5 87.9,278.7 88.0,282.6 88.1,294.8 88.2,309.1 88.3,296.1 88.4,284.1 88.5,305.9 88.6,311.5 88.7,312.1 88.8,310.0 88.9,274.4 89.0,292.0 89.1,309.0 89.2,314.3 89.2,282.0 89.3,275.2 89.4,286.2 89.5,295.8 89.6,307.2 89.7,305.1 89.8,289.4 89.9,280.9 90.0,285.1 90.1,299.1 90.2,310.0 90.3,302.8 90.4,287.7 90.5,287.8 90.6,302.7 90.7,304.2 90.8,294.4 90.9,293.5 91.0,301.0 91.1,326.5 91.2,327.2 91.3,318.7 91.4,319.8 91.5,325.2 91.6,299.7 91.7,298.0 91.8,303.0 91.9,323.7 92.0,304.3 92.0,300.1 92.2,320.7 92.2,305.3 92.3,300.4 92.4,303.8 92.5,300.6 92.6,329.0 92.7,295.5 92.8,296.0 92.9,294.9 93.0,289.3 93.1,290.6 93.2,296.2 93.3,319.2 93.4,316.9 93.5,297.3 93.6,295.1 93.7,298.0 93.8,300.1 93.9,313.7 94.0,314.7 94.1,317.6 94.2,308.7 94.3,311.9 94.4,312.5 94.5,297.8 94.6,291.7 94.7,306.9 94.8,308.0 94.8,295.8 95.0,293.4 95.0,284.6 95.1,290.4 95.2,295.8 95.3,287.7 95.4,275.7 95.5,280.7 95.6,289.4 95.7,303.4 95.8,319.7 95.9,310.0 96.0,281.0 96.1,275.8 96.2,282.7 96.3,321.6 96.4,301.7 96.5,303.3 96.6,306.5 96.7,303.8 96.8,306.5 96.9,303.5 97.0,297.8 97.1,298.0 97.2,289.9 97.3,260.1 97.4,284.3 97.5,289.8 97.6,312.9 97.7,315.2 97.8,296.0 97.8,270.6 98.0,260.1 98.0,271.3 98.1,288.1 98.2,301.7 98.3,291.9 98.4,294.8 98.5,310.6 98.6,313.0 98.7,306.1 98.8,311.3 98.9,325.7 99.0,311.8 99.1,301.0 99.2,301.0 99.3,297.4 99.4,300.6 99.5,307.8 99.6,304.0 99.7,307.3 99.8,310.9 99.9,298.7 100.0,294.6 100.1,318.6 100.2,332.2 100.3,319.3 100.4,291.9 100.5,297.4 100.6,309.1 100.7,318.7 100.8,329.0 100.8,331.7 100.9,313.4 101.0,312.9 101.1,332.5 101.2,331.9 101.3,320.8 101.4,308.5 101.5,292.0 101.6,271.4 101.7,261.7 101.8,264.1 101.9,261.4 102.0,315.2 102.1,312.8 102.2,289.1 102.3,294.2 102.4,316.6 102.5,339.6 102.6,335.4 102.7,308.8 102.8,300.1 102.9,342.0 103.0,323.1 103.1,327.6 103.2,307.5 103.3,278.7 103.4,276.5 103.5,299.6 103.5,315.9 103.7,316.1 103.8,292.9 103.8,288.3 103.9,306.6 104.0,309.7 104.1,313.0 104.2,330.3 104.3,344.6 104.4,326.8 104.5,316.0 104.6,332.0 104.7,346.2 104.8,348.4 104.9,312.7 105.0,302.6 105.1,310.8 105.2,318.8 105.3,322.2 105.4,319.2 105.5,318.8 105.6,348.6 105.7,313.9 105.8,306.4 105.9,304.8 106.0,321.1 106.1,321.6 106.2,327.6 106.3,342.6 106.4,345.2 106.5,326.0 106.5,327.7 106.7,326.4 106.7,319.5 106.8,325.2 106.9,320.0 107.0,312.0 107.1,304.2 107.2,305.8 107.3,314.4 107.4,310.1 107.5,311.9 107.6,314.4 107.7,313.6 107.8,313.6 107.9,323.2 108.0,312.6 108.1,305.3 108.2,305.7 108.3,302.3 108.4,312.7 108.5,318.2 108.6,323.7 108.7,331.1 108.8,334.9 108.9,328.5 109.0,323.0 109.1,319.4 109.2,305.4 109.3,304.6 109.3,319.5 109.5,311.7 109.5,308.3 109.6,301.7 109.7,289.3 109.8,294.0 109.9,305.8 110.0,320.8 110.1,335.1 110.2,320.0 110.3,318.1 110.4,313.6 110.5,307.3 110.6,296.8 110.7,288.8 110.8,292.2 110.9,298.4 111.0,306.9 111.1,306.3 111.2,334.6 111.3,313.5 111.4,303.1 111.5,315.3 111.6,318.8 111.7,295.3 111.8,291.1 111.9,308.9 112.0,305.6 112.1,288.1 112.2,305.2 112.2,336.0 112.3,317.3 112.4,292.3 112.5,291.9 112.6,293.3 112.7,291.2 112.8,298.6 112.9,318.2 113.0,330.8 113.1,320.0 113.2,321.9 113.3,304.7 113.4,287.9 113.5,293.3 113.6,302.3 113.7,301.6 113.8,294.9 113.9,299.4 114.0,280.9 114.1,301.2 114.2,284.2 114.3,293.0 114.4,316.8 114.5,335.4 114.6,349.5 114.7,320.5 114.8,289.8 114.9,301.1 115.0,320.4 115.0,319.3 115.2,310.8 115.2,309.1 115.3,314.1 115.4,311.6 115.5,285.2 115.6,273.4 115.7,302.7 115.8,305.3 115.9,297.3 116.0,315.9 116.1,316.5 116.2,307.9 116.3,302.9 116.4,306.4 116.5,308.7 116.6,306.5 116.7,316.0 116.8,323.7 116.9,319.1 117.0,307.2 117.1,308.5 117.2,299.2 117.3,265.9 117.4,245.6 117.5,299.2 117.6,302.7 117.7,302.0 117.8,305.8 117.9,305.1 118.0,291.0 118.0,286.7 118.2,254.9 118.2,269.9 118.3,296.3 118.4,280.5 118.5,281.9 118.6,261.4 118.7,311.6 118.8,308.1 118.9,299.3 119.0,291.6 119.1,299.1 119.2,304.9 119.3,300.3 119.4,275.7 119.5,272.7 119.6,296.7 119.7,307.2 119.8,296.0 119.9,288.7 120.0,282.0 120.1,270.2 120.2,284.5 120.3,310.1 120.4,308.4 120.5,269.7 120.6,285.5 120.7,288.4 120.8,300.9 120.8,310.1 121.0,292.2 121.0,278.6 121.1,292.2 121.2,314.0 121.3,313.5 121.4,321.6 121.5,293.1 121.6,277.4 121.7,272.9 121.8,289.0 121.9,301.0 122.0,300.0 122.1,300.6 122.2,303.7 122.3,301.5 122.4,305.1 122.5,309.4 122.6,301.6 122.7,305.6 122.8,308.7 122.9,301.3 123.0,297.7 123.1,290.9 123.2,294.1 123.3,288.3 123.4,307.9 123.5,304.4 123.6,299.6 123.7,302.2 123.8,305.3 123.8,314.1 124.0,304.6 124.0,295.7 124.1,297.2 124.2,298.3 124.3,298.6 124.4,308.8 124.5,311.8 124.6,301.9 124.7,293.9 124.8,297.2 124.9,302.0 125.0,301.0 125.1,290.2 125.2,321.7 125.3,332.7 125.4,327.1 125.5,322.1 125.6,318.3 125.7,318.5 125.8,313.5 125.9,304.1 126.0,302.4 126.1,332.8 126.2,295.9 126.3,303.5 126.4,304.5 126.5,302.0 126.6,314.4 126.7,316.5 126.8,301.5 126.8,299.5 126.9,299.9 127.0,299.2 127.1,300.4 127.2,305.3 127.3,311.1 127.4,314.4 127.5,306.7 127.6,304.4 127.7,304.2 127.8,295.4 127.9,290.1 128.0,300.9 128.1,299.2 128.2,294.1 128.3,296.8 128.4,302.2 128.5,296.5 128.6,296.7 128.7,303.3 128.8,305.2 128.9,299.8 129.0,292.7 129.1,286.9 129.2,285.1 129.3,296.3 129.4,300.4 129.4,301.7 129.6,298.5 129.7,302.0 129.7,284.6 129.8,317.2 129.9,311.6 130.0,298.9 130.1,289.5 130.2,296.3 130.3,309.2 130.4,309.0 130.5,304.6 130.6,303.1 130.7,319.7 130.8,296.5 130.9,301.7 131.0,312.0 131.1,318.0 131.2,315.3 131.3,315.0 131.4,308.4 131.5,306.1 131.6,310.9 131.7,308.2 131.8,300.6 131.9,289.0 132.0,300.1 132.1,312.3 132.2,305.4 132.3,300.3 132.3,305.1 132.4,305.3 132.6,296.8 132.6,293.4 132.7,301.7 132.8,311.6 132.9,315.5 133.0,322.8 133.1,323.6 133.2,318.2 133.3,315.5 133.4,302.7 133.5,327.2 133.6,294.5 133.7,316.5 133.8,327.1 133.9,324.5 134.0,326.6 134.1,324.4 134.2,309.0 134.3,304.2 134.4,289.9 134.5,274.4 134.6,289.3 134.7,300.6 134.8,302.8 134.9,308.5 135.0,312.1 135.1,305.4 135.2,298.2 135.2,308.0 135.3,320.0 135.4,322.0 135.5,316.6 135.6,306.5 135.7,299.6 135.8,296.3 135.9,295.7 136.0,299.5 136.1,298.4 136.2,298.5 136.3,303.3 136.4,310.6 136.5,305.9 136.6,314.0 136.7,313.2 136.8,303.0 136.9,298.3 137.0,291.1 137.1,299.7 137.2,309.3 137.3,306.4 137.4,300.2 137.5,285.7 137.6,281.5 137.7,292.0 137.8,302.8 137.9,300.4 138.0,297.9 138.1,308.1 138.2,321.6 138.2,297.0 138.3,295.3 138.4,304.1 138.5,312.6 138.6,315.8 138.7,302.4 138.8,306.9 138.9,320.9 139.0,322.6 139.1,309.9 139.2,288.1 139.3,294.6 139.4,304.5 139.5,284.4 139.6,287.8 139.7,318.5 139.8,328.7 139.9,309.9 140.0,276.2 140.1,309.8 140.2,304.3 140.3,285.6 140.4,278.1 140.5,288.3 140.6,300.1 140.7,300.0 140.8,304.3 140.9,312.3 141.0,329.0 141.1,301.8 141.2,302.3 141.2,297.6 141.3,288.6 141.4,279.1 141.5,279.1 141.6,302.5 141.7,316.8 141.8,312.4 141.9,309.1 142.0,303.7 142.1,310.0 142.2,303.1 142.3,292.2 142.4,290.8 142.5,292.8 142.6,287.0 142.7,295.2 142.8,327.2 142.9,309.5 143.0,305.2 143.1,311.7 143.2,314.2 143.3,307.0 143.4,301.5 143.5,296.8 143.6,290.0 143.7,295.3 143.8,310.2 143.9,312.2 143.9,305.4 144.1,308.7 144.2,305.6 144.2,299.2 144.3,295.5 144.4,295.1 144.5,296.2 144.6,303.6 144.7,305.6 144.8,308.7 144.9,307.6 145.0,309.1 145.1,318.0 145.2,321.6 145.3,307.9 145.4,302.7 145.5,307.3 145.6,312.2 145.7,310.3 145.8,305.4 145.9,302.8 146.0,300.1 146.1,305.6 146.2,311.0 146.3,307.8 146.4,310.4 146.5,314.8 146.6,323.4 146.7,315.7 146.8,307.4 146.8,311.2 146.9,307.8 147.0,303.1 147.1,299.6 147.2,295.3 147.3,304.1 147.4,311.9 147.5,321.7 147.6,339.0 147.7,333.3 147.8,311.4 147.9,303.3 148.0,296.5 148.1,302.5 148.2,303.9 148.3,295.7 148.4,339.3 148.5,293.0 148.6,307.9 148.7,302.8 148.8,293.2 148.9,288.0 149.0,280.4 149.1,283.5 149.2,301.0 149.3,306.9 149.4,293.1 149.5,290.1 149.6,278.9 149.7,275.6 149.8,298.1 149.8,314.4 149.9,308.4 150.0,295.5 150.1,294.1 150.2,274.4 150.3,294.7 150.4,305.2 150.5,309.3 150.6,302.0 150.7,290.7 150.8,303.9 150.9,310.4 151.0,309.4 151.1,306.6 151.2,315.0 151.3,310.3 151.4,288.0 151.5,282.2 151.6,293.6 151.7,302.9 151.8,314.2 151.9,303.8 152.0,304.5 152.1,322.9 152.2,330.6 152.3,317.3 152.4,301.6 152.5,296.3 152.6,294.8 152.7,289.6 152.8,298.0 152.8,318.3 152.9,317.6 153.0,274.4 153.1,295.7 153.2,297.7 153.3,291.2 153.4,334.6 153.5,274.6 153.6,290.5 153.7,301.9 153.8,301.6 153.9,288.5 154.0,276.6 154.1,299.8 154.2,316.2 154.3,306.7 154.4,300.8 154.5,305.8 154.6,295.6 154.7,293.2 154.8,301.4 154.9,309.5 155.0,280.9 155.1,311.9 155.2,305.1 155.3,287.8 155.4,284.0 155.4,298.2 155.6,310.0 155.7,318.8 155.7,311.0 155.8,300.5 155.9,297.4 156.0,296.2 156.1,293.6 156.2,298.4 156.3,298.6 156.4,297.1 156.5,310.4 156.6,312.8 156.7,309.9 156.8,309.3 156.9,308.7 157.0,307.2 157.1,307.0 157.2,302.6 157.3,296.8 157.4,299.0 157.5,304.0 157.6,312.0 157.7,278.1 157.8,305.1 157.9,293.5 158.0,290.3 158.1,286.2 158.2,284.6 158.3,290.6 158.3,299.0 158.4,290.3 158.6,282.3 158.6,278.2 158.7,287.1 158.8,296.7 158.9,301.8 159.0,309.6 159.1,321.8 159.2,313.9 159.3,300.4 159.4,295.2 159.5,303.4 159.6,294.6 159.7,283.5 159.8,294.8 159.9,297.6 160.0,305.4 160.1,303.7 160.2,293.5 160.3,292.9 160.4,309.6 160.5,271.6 160.6,288.6 160.7,287.3 160.8,285.2 160.9,282.1 161.0,289.0 161.1,303.4 161.2,316.4 161.2,325.2 161.3,313.9 161.4,308.8 161.5,294.7 161.6,274.9 161.7,284.0 161.8,330.9 161.9,315.7 162.0,294.5 162.1,287.0 162.2,303.0 162.3,305.6 162.4,309.7 162.5,311.9 162.6,319.6 162.7,330.6 162.8,328.7 162.9,319.7 163.0,297.1 163.1,294.6 163.2,300.4 163.3,302.2 163.4,302.8 163.5,302.8 163.6,303.5 163.7,307.5 163.8,314.4 163.9,324.6 164.0,323.8 164.1,314.9 164.2,306.5 164.2,302.1 164.3,297.7 164.4,302.2 164.5,305.5 164.6,300.9 164.7,295.2 164.8,292.2 164.9,297.3 165.0,305.2 165.1,304.0 165.2,299.2 165.3,299.2 165.4,299.6 165.5,299.0 165.6,292.9 165.7,290.7 165.8,294.8 165.9,304.7 166.0,316.2 166.1,315.0 166.2,305.4 166.3,307.9 166.4,321.4 166.5,311.9 166.6,297.2 166.7,296.9 166.8,302.4 166.9,301.3 166.9,302.5 167.1,301.6 167.2,294.2 167.2,295.0 167.3,307.1 167.4,316.8 167.5,320.9 167.6,313.8 167.7,292.8 167.8,284.3 167.9,291.4 168.0,296.3 168.1,304.9 168.2,302.7 168.3,323.5 168.4,297.7 168.5,308.7 168.6,321.7 168.7,322.5 168.8,314.5 168.9,310.3 169.0,308.5 169.1,309.7 169.2,307.1 169.3,301.3 169.4,297.0 169.5,302.7 169.6,307.9 169.7,304.2 169.8,295.6 169.8,305.5 169.9,314.5 170.1,313.1 170.1,302.0 170.2,286.9 170.3,278.1 170.4,290.7 170.5,287.1 170.6,301.2 170.7,307.3 170.8,306.1 170.9,292.2 171.0,284.4 171.1,300.6 171.2,312.2 171.3,316.6 171.4,309.4 171.5,307.3 171.6,309.2 171.7,313.2 171.8,315.0 171.9,309.0 172.0,295.7 172.1,289.3 172.2,296.6 172.3,300.7 172.4,305.5 172.5,310.5 172.6,312.2 172.7,296.9 172.8,284.5 172.8,285.8 172.9,303.2 173.0,308.4 173.1,310.7 173.2,306.2 173.3,301.8 173.4,298.1 173.5,300.0 173.6,300.4 173.7,304.3 173.8,302.4 173.9,280.0 174.0,309.3 174.1,305.3 174.2,307.9 174.3,321.6 174.4,322.9 174.5,311.2 174.6,314.4 174.7,330.1 174.8,330.9 174.9,318.4 175.0,305.4 175.1,298.4 175.2,290.9 175.3,284.6 175.4,288.2 175.5,308.4 175.6,307.4 175.7,303.8 175.8,330.9 175.8,321.9 175.9,305.9 176.0,296.3 176.1,300.8 176.2,322.0 176.3,325.2 176.4,315.6 176.5,311.2 176.6,305.2 176.7,290.2 176.8,294.3 176.9,300.9 177.0,304.5 177.1,302.1 177.2,301.6 177.3,312.4 177.4,312.9 177.5,322.6 177.6,322.3 177.7,299.1 177.8,290.2 177.9,287.8 178.0,293.8 178.1,296.8 178.2,299.1 178.3,300.6 178.4,299.9 178.5,292.3 178.6,334.6 178.7,290.5 178.8,295.0 178.8,295.1 178.9,296.8 179.0,291.2 179.1,285.0 179.2,301.6 179.3,317.4 179.4,306.9 179.5,312.4 179.6,332.2 179.7,303.0 179.8,298.8 179.9,324.9 180.0,315.2 180.1,305.4 180.2,321.6 180.3,322.5 180.4,311.1 180.5,296.0 180.6,290.6 180.7,300.2 180.8,300.6 180.9,292.9 181.0,275.3 181.1,298.7 181.2,299.5 181.3,316.4 181.4,336.5 181.4,314.6 181.6,314.1 181.7,306.5 181.7,292.9 181.8,275.6 181.9,284.3 182.0,290.2 182.1,283.7 182.2,297.9 182.3,320.1 182.4,311.2 182.5,303.5 182.6,309.0 182.7,308.9 182.8,309.9 182.9,313.4 183.0,327.9 183.1,331.6 183.2,318.6 183.3,304.3 183.4,298.8 183.5,307.7 183.6,310.9 183.7,303.4 183.8,299.4 183.9,296.0 184.0,309.3 184.1,323.4 184.2,322.3 184.2,321.0 184.3,321.5 184.4,318.3 184.5,315.0 184.6,312.6 184.7,310.7 184.8,306.1 184.9,304.1 185.0,305.8 185.1,311.3 185.2,321.0 185.3,322.9 185.4,293.9 185.5,313.1 185.6,316.9 185.7,313.2 185.8,302.9 185.9,295.2 186.0,302.3 186.1,307.1 186.2,302.4 186.3,304.5 186.4,306.3 186.5,304.5 186.6,310.7 186.7,309.1 186.8,304.9 186.9,305.7 187.0,319.3 187.1,324.9 187.2,318.3 187.2,312.8 187.3,310.7 187.4,309.7 187.5,304.1 187.6,301.7 187.7,307.3 187.8,313.0 187.9,308.6 188.0,319.9 188.1,313.4 188.2,286.5 188.3,304.9 188.4,294.5 188.5,286.5 188.6,289.5 188.7,296.7 188.8,330.9 188.9,306.7 189.0,304.9 189.1,303.2 189.2,305.1 189.3,307.4 189.4,320.0 189.5,330.6 189.6,311.2 189.7,298.4 189.8,290.9 189.9,296.1 190.0,301.2 190.1,299.2 190.2,300.6 190.2,306.4 190.3,322.0 190.4,329.2 190.5,305.9 190.6,301.8 190.7,329.3 190.8,327.1 190.9,303.6 191.0,301.2 191.1,311.5 191.2,334.4 191.3,323.5 191.4,301.3 191.5,336.5 191.6,303.4 191.7,313.8 191.8,312.4 191.9,327.4 192.0,334.3 192.1,320.5 192.2,293.7 192.3,303.5 192.4,320.7 192.5,330.2 192.6,301.0 192.7,304.6 192.8,333.5 192.9,326.7 192.9,294.7 193.1,293.2 193.2,280.2 193.2,313.4 193.3,327.9 193.4,273.5 193.5,279.9 193.6,290.1 193.7,306.3 193.8,304.1 193.9,297.4 194.0,314.0 194.1,318.4 194.2,305.5 194.3,299.6 194.4,290.6 194.5,304.3 194.6,308.3 194.7,312.0 194.8,314.4 194.9,304.4 195.0,304.3 195.1,300.4 195.2,284.1 195.3,287.7 195.4,288.1 195.5,289.5 195.6,289.5 195.7,289.5 195.8,288.9 195.8,297.5 195.9,301.8 196.1,303.2 196.1,303.5 196.2,311.2 196.3,306.1 196.4,298.2 196.5,297.8 196.6,295.1 196.7,282.5 196.8,282.5 196.9,306.4 197.0,321.0 197.1,319.6 197.2,313.4 197.3,307.0 197.4,301.0 197.5,297.1 197.6,303.0 197.7,304.6 197.8,305.9 197.9,309.7 198.0,299.4 198.1,284.4 198.2,298.9 198.3,317.2 198.4,319.8 198.5,305.1 198.6,304.8 198.7,300.5 198.8,282.8 198.8,290.5 198.9,282.8 199.0,308.6 199.1,295.5 199.2,297.5 199.3,302.7 199.4,287.3 199.5,287.9 199.6,312.9 199.7,326.9 199.8,319.9 199.9,301.0 200.0,293.0 200.1,301.3 200.2,309.1 200.3,306.4 200.4,306.4 200.5,320.0 200.6,324.2 200.7,308.4 200.8,292.3 200.9,296.6 201.0,305.2 201.1,307.9 201.2,307.4 201.3,318.7 201.4,316.3 201.5,313.9 201.6,314.2 201.7,313.0 201.8,303.0 201.8,306.8 201.9,310.2 202.0,304.2 202.1,307.8 202.2,314.3 202.3,312.0 202.4,306.5 202.5,314.1 202.6,314.2 202.7,280.0 202.8,304.7 202.9,291.6 203.0,282.4 203.1,311.9 203.2,308.1 203.3,296.6 203.4,300.2 203.5,313.1 203.6,334.6 203.7,312.5 203.8,302.2 203.9,294.8 204.0,308.2 204.1,317.1 204.2,317.7 204.3,314.1 204.4,322.8 204.4,334.5 204.6,328.2 204.7,304.1 204.7,289.0 204.8,295.1 204.9,301.4 205.0,299.8 205.1,299.1 205.2,306.6 205.3,316.5 205.4,321.3 205.5,320.4 205.6,314.8 205.7,315.7 205.8,307.4 205.9,298.4 206.0,301.4 206.1,295.8 206.2,299.0 206.3,320.6 206.4,322.9 206.5,311.3 206.6,309.1 206.7,303.3 206.8,302.2 206.9,304.7 207.0,298.0 207.1,292.5 207.2,298.7 207.3,310.2 207.3,312.2 207.4,305.5 207.6,300.2 207.6,304.8 207.7,311.7 207.8,306.2 207.9,304.1 208.0,306.3 208.1,305.5 208.2,303.7 208.3,301.2 208.4,300.6 208.5,303.1 208.6,305.9 208.7,305.8 208.8,306.2 208.9,302.1 209.0,302.1 209.1,308.4 209.2,319.7 209.3,298.1 209.4,294.9 209.5,297.1 209.6,299.6 209.7,296.6 209.8,293.6 209.9,299.4 210.0,299.8 210.1,299.0 210.2,300.3 210.2,302.1 210.3,306.1 210.4,303.9 210.5,302.8 210.6,294.9 210.7,296.6 210.8,309.6 210.9,315.1 211.0,304.8 211.1,300.2 211.2,300.3 211.3,293.7 211.4,296.5 211.5,304.8 211.6,308.5 211.7,303.9 211.8,299.1 211.9,293.6 212.0,291.3 212.1,294.0 212.2,291.2 212.3,286.1 212.4,290.2 212.5,295.6 212.6,295.5 212.7,297.9 212.8,295.7 212.9,299.0 213.0,302.6 213.1,295.4 213.2,291.5 213.2,294.4 213.3,300.4 213.4,286.4 213.5,282.2 213.6,294.2 213.7,297.9 213.8,295.5 213.9,291.9 214.0,290.5 214.1,306.4 214.2,314.4 214.3,294.5 214.4,276.5 214.5,295.4 214.6,315.1 214.7,311.8 214.8,317.9 214.9,282.1 215.0,296.2 215.1,294.5 215.2,286.8 215.3,283.1 215.4,279.3 215.5,268.9 215.6,276.0 215.7,279.3 215.8,266.1 215.9,305.1 216.0,310.8 216.1,286.0 216.2,285.2 216.2,294.3 216.3,287.4 216.4,284.8 216.5,298.4 216.6,263.2 216.7,308.2 216.8,307.0 216.9,299.7 217.0,280.4 217.1,279.1 217.2,287.0 217.3,293.3 217.4,293.2 217.5,299.9 217.6,293.8 217.7,287.8 217.8,299.4 217.9,301.7 218.0,297.7 218.1,301.3 218.2,303.4 218.3,301.9 218.4,303.1 218.5,293.7 218.6,278.2 218.7,288.1 218.8,293.8 218.8,300.8 218.9,300.1 219.1,299.3 219.1,296.2 219.2,282.3 219.3,274.5 219.4,284.0 219.5,283.8 219.6,286.6 219.7,292.1 219.8,301.9 219.9,305.8 220.0,305.4 220.1,306.0 220.2,305.8 220.3,272.5 220.4,302.9 220.5,290.3 220.6,273.1 220.7,272.6 220.8,289.3 220.9,300.7 221.0,294.0 221.1,292.2 221.2,305.2 221.3,318.7 221.4,323.1 221.5,304.0 221.6,284.3 221.7,294.6 221.8,298.3 221.8,296.1 221.9,294.7 222.0,304.6 222.1,324.2 222.2,315.7 222.3,303.8 222.4,300.0 222.5,295.6 222.6,300.1 222.7,291.1 222.8,287.1 222.9,302.3 223.0,309.7 223.1,309.1 223.2,313.6 223.3,337.3 223.4,337.7 223.5,316.9 223.6,302.6 223.7,305.0 223.8,308.9 223.9,301.4 224.0,307.2 224.1,313.6 224.2,306.0 224.3,302.3 224.4,313.8 224.5,330.3 224.6,324.4 224.7,311.9 224.8,309.8 224.8,318.2 224.9,320.2 225.0,342.0 225.1,324.3 225.2,329.6 225.3,331.4 225.4,336.1 225.5,338.0 225.6,341.9 225.7,334.5 225.8,310.3 225.9,303.2 226.0,309.5 226.1,312.1 226.2,308.1 226.3,312.0 226.4,310.3 226.5,306.5 226.6,306.9 226.7,306.1 226.8,313.2 226.9,317.6 227.0,321.5 227.1,332.6 227.2,330.4 227.3,321.9 227.4,326.4 227.5,313.3 227.6,308.9 227.7,306.4 227.8,307.0 227.8,306.5 227.9,305.6 228.0,312.7 228.1,314.5 228.2,312.6 228.3,314.7 228.4,311.4 228.5,312.7 228.6,326.9 228.7,349.5 228.8,341.6 228.9,315.3 229.0,333.2 229.1,335.5 229.2,312.9 229.3,310.0 229.4,312.4 229.5,315.5 229.6,327.2 229.7,336.2 229.8,327.2 229.9,309.6 230.0,301.9 230.1,303.6 230.2,320.0 230.3,340.0 230.4,322.6 230.4,328.2 230.6,338.6 230.7,311.5 230.7,308.1 230.8,311.4 230.9,310.8 231.0,310.1 231.1,309.6 231.2,309.9 231.3,309.0 231.4,305.6 231.5,299.6 231.6,293.3 231.7,303.6 231.8,315.1 231.9,315.1 232.0,308.3 232.1,306.4 232.2,307.2 232.3,309.3 232.4,307.1 232.5,298.5 232.6,294.3 232.7,300.7 232.8,310.4 232.9,319.3 233.0,318.5 233.1,310.7 233.2,308.4 233.3,310.5 233.3,314.0 233.4,315.4 233.6,321.9 233.6,320.1 233.7,311.8 233.8,305.0 233.9,308.8 234.0,310.2 234.1,304.4 234.2,298.3 234.3,290.8 234.4,292.7 234.5,298.1 234.6,299.6 234.7,299.5 234.8,307.1 234.9,308.4 235.0,301.2 235.1,301.1 235.2,297.9 235.3,286.4 235.4,300.3 235.5,311.0 235.6,306.7 235.7,299.8 235.8,302.7 235.9,300.4 236.0,300.8 236.1,302.2 236.2,280.0 236.2,302.9 236.3,296.9 236.4,289.9 236.5,301.0 236.6,299.5 236.7,284.1 236.8,286.4 236.9,290.5 237.0,289.8 237.1,300.4 237.2,299.6 237.3,296.7 237.4,295.7 237.5,296.0 237.6,300.8 237.7,299.3 237.8,296.2 237.9,278.3 238.0,279.9 238.1,297.9 238.2,301.0 238.3,299.0 238.4,299.6 238.5,297.9 238.6,294.4 238.7,288.4 238.8,275.7 238.9,287.9 239.0,266.9 239.1,300.1 239.2,296.1 239.2,281.9 239.3,275.3 239.4,268.9 239.5,270.6 239.6,284.8 239.7,296.5 239.8,296.8 239.9,298.6 240.0,303.2 240.1,299.5 240.2,300.4 240.3,298.8 240.4,295.4 240.5,282.7 240.6,277.4 240.7,293.2 240.8,291.2 240.9,284.6 241.0,294.8 241.1,298.4 241.2,295.5 241.3,297.7 241.4,303.9 241.5,294.6 241.6,283.9 241.7,278.8 241.8,289.6 241.9,298.7 241.9,304.5 242.1,312.3 242.2,295.7 242.2,286.0 242.3,291.0 242.4,295.5 242.5,296.7 242.6,298.4 242.7,298.7 242.8,291.0 242.9,294.7 243.0,294.3 243.1,288.4 243.2,292.2 243.3,293.3 243.4,288.6 243.5,291.1" fill="none" stroke="#0000ff" stroke-width="0.65" stroke-linejoin="round"/>
<rect x="50.3" y="230.0" width="193.2" height="150.3" fill="none" stroke="#4a4a4a" stroke-width="1"/>
<line x1="50.3" y1="380.3" x2="50.3" y2="378.3" stroke="#4a4a4a" stroke-width="1"/>
<line x1="50.3" y1="230.0" x2="50.3" y2="232.0" stroke="#4a4a4a" stroke-width="1"/>
<text x="50.3" y="393.6" text-anchor="middle">0</text>
<line x1="98.6" y1="380.3" x2="98.6" y2="378.3" stroke="#4a4a4a" stroke-width="1"/>
<line x1="98.6" y1="230.0" x2="98.6" y2="232.0" stroke="#4a4a4a" stroke-width="1"/>
<text x="98.6" y="393.6" text-anchor="middle">500</text>
<line x1="146.9" y1="380.3" x2="146.9" y2="378.3" stroke="#4a4a4a" stroke-width="1"/>
<line x1="146.9" y1="230.0" x2="146.9" y2="232.0" stroke="#4a4a4a" stroke-width="1"/>
<text x="146.9" y="393.6" text-anchor="middle">1000</text>
<line x1="195.2" y1="380.3" x2="195.2" y2="378.3" stroke="#4a4a4a" stroke-width="1"/>
<line x1="195.2" y1="230.0" x2="195.2" y2="232.0" stroke="#4a4a4a" stroke-width="1"/>
<text x="195.2" y="393.6" text-anchor="middle">1500</text>
<line x1="243.5" y1="380.3" x2="243.5" y2="378.3" stroke="#4a4a4a" stroke-width="1"/>
<line x1="243.5" y1="230.0" x2="243.5" y2="232.0" stroke="#4a4a4a" stroke-width="1"/>
<text x="243.5" y="393.6" text-anchor="middle">2000</text>
<line x1="50.3" y1="380.3" x2="52.3" y2="380.3" stroke="#4a4a4a" stroke-width="1"/>
<line x1="243.5" y1="380.3" x2="241.5" y2="380.3" stroke="#4a4a4a" stroke-width="1"/>
<text x="46.7" y="384.2" text-anchor="end">-0.15</text>
<line x1="50.3" y1="330.2" x2="52.3" y2="330.2" stroke="#4a4a4a" stroke-width="1"/>
<line x1="243.5" y1="330.2" x2="241.5" y2="330.2" stroke="#4a4a4a" stroke-width="1"/>
<text x="46.7" y="334.1" text-anchor="end">-0.05</text>
<line x1="50.3" y1="280.1" x2="52.3" y2="280.1" stroke="#4a4a4a" stroke-width="1"/>
<line x1="243.5" y1="280.1" x2="241.5" y2="280.1" stroke="#4a4a4a" stroke-width="1"/>
<text x="46.7" y="284.0" text-anchor="end">0.05</text>
<line x1="50.3" y1="230.0" x2="52.3" y2="230.0" stroke="#4a4a4a" stroke-width="1"/>
<line x1="243.5" y1="230.0" x2="241.5" y2="230.0" stroke="#4a4a4a" stroke-width="1"/>
<text x="46.7" y="233.9" text-anchor="end">0.15</text>
<text x="146.9" y="407.8" text-anchor="middle" font-size="11.6">Sampling point</text>
<text x="146.9" y="420.3" text-anchor="middle" font-size="11.6">(b)</text>
<text transform="translate(14.0,305.1) rotate(-90)" text-anchor="middle" font-size="11.6">Amplitude</text>
<polyline points="332.8,334.9 332.9,331.0 333.0,312.4 333.1,292.7 333.2,280.0 333.3,297.3 333.4,309.0 333.5,304.8 333.6,279.6 333.7,264.2 333.8,295.7 333.9,315.8 334.0,310.9 334.1,299.1 334.2,306.3 334.3,352.0 334.4,342.6 334.5,343.5 334.6,339.3 334.7,329.8 334.8,316.6 334.9,306.7 335.0,305.3 335.1,304.7 335.2,302.4 335.3,307.0 335.4,325.4 335.5,335.7 335.6,337.4 335.7,338.6 335.8,335.8 335.9,324.1 336.0,318.2 336.1,256.8 336.2,342.5 336.3,354.1 336.4,361.7 336.5,354.6 336.6,332.6 336.7,309.9 336.8,300.7 336.9,362.3 337.0,328.7 337.1,337.4 337.2,330.9 337.3,326.5 337.4,337.0 337.5,350.3 337.6,335.6 337.7,311.2 337.8,304.5 337.9,308.6 338.0,315.3 338.1,322.8 338.2,262.4 338.3,304.0 338.4,288.5 338.5,269.4 338.6,262.5 338.7,268.7 338.8,281.2 338.9,293.3 339.0,300.7 339.1,299.8 339.2,296.8 339.3,299.4 339.4,301.8 339.5,301.5 339.6,301.9 339.7,303.4 339.8,304.0 339.9,303.7 340.0,304.9 340.1,306.9 340.2,311.1 340.3,322.6 340.4,330.2 340.5,320.9 340.6,333.5 340.7,311.5 340.8,319.7 340.9,320.7 341.0,318.2 341.1,320.5 341.2,320.0 341.3,316.4 341.4,316.0 341.5,314.2 341.6,310.1 341.7,255.9 341.8,300.2 341.9,299.1 342.0,312.0 342.1,332.1 342.2,336.6 342.3,324.2 342.4,312.3 342.5,337.2 342.6,312.0 342.7,317.0 342.8,318.5 342.9,314.5 343.0,309.1 343.1,304.5 343.2,285.1 343.3,271.8 343.4,289.4 343.5,300.8 343.6,296.2 343.7,298.3 343.8,304.1 343.9,304.7 344.0,307.1 344.1,315.9 344.2,323.9 344.3,320.1 344.4,307.5 344.5,299.8 344.6,295.5 344.7,289.9 344.8,292.2 344.9,305.4 345.0,315.7 345.1,329.8 345.2,345.5 345.3,342.6 345.4,322.1 345.5,310.6 345.6,308.4 345.7,304.7 345.8,296.0 345.9,289.1 346.0,285.3 346.1,281.6 346.2,267.0 346.3,267.1 346.4,276.8 346.5,293.4 346.6,306.0 346.7,315.7 346.8,309.1 346.9,295.4 347.0,280.0 347.1,366.0 347.2,301.0 347.3,303.9 347.4,290.8 347.5,289.2 347.6,299.1 347.7,305.0 347.8,322.5 347.9,362.4 348.0,354.8 348.1,315.7 348.2,306.0 348.3,310.5 348.4,325.1 348.5,332.1 348.6,334.7 348.7,324.1 348.8,306.6 348.9,296.7 349.0,305.3 349.1,324.8 349.2,337.2 349.3,332.7 349.4,333.8 349.5,337.5 349.6,318.4 349.7,298.8 349.8,293.4 349.9,268.0 350.0,300.9 350.1,308.9 350.2,339.6 350.3,345.6 350.4,321.7 350.5,308.1 350.6,307.4 350.7,305.9 350.8,291.8 350.9,350.2 351.0,273.2 351.1,295.1 351.2,300.6 351.3,298.8 351.4,305.8 351.5,312.4 351.6,306.7 351.7,298.9 351.8,295.7 351.9,302.0 352.0,306.0 352.1,302.6 352.2,292.8 352.3,291.7 352.4,305.3 352.5,321.1 352.6,318.2 352.7,310.9 352.8,321.5 352.9,335.6 353.0,325.4 353.1,308.0 353.2,303.5 353.3,303.4 353.4,301.8 353.5,301.9 353.6,303.6 353.7,295.5 353.8,274.6 353.9,265.2 354.0,273.7 354.1,284.4 354.2,292.6 354.3,302.2 354.4,310.3 354.5,314.6 354.6,344.6 354.7,290.2 354.8,273.0 354.9,271.2 355.0,273.3 355.1,278.3 355.2,291.7 355.2,305.5 355.4,320.2 355.4,320.8 355.6,326.1 355.6,342.8 355.8,333.8 355.9,313.7 355.9,313.4 356.1,322.2 356.1,320.4 356.2,309.1 356.4,301.0 356.4,300.6 356.6,307.1 356.6,309.2 356.8,300.1 356.9,280.0 356.9,241.4 357.1,295.4 357.1,313.2 357.2,330.7 357.4,324.0 357.4,310.6 357.6,315.9 357.6,339.6 357.8,349.9 357.9,335.4 357.9,323.2 358.1,318.8 358.1,311.1 358.2,301.7 358.4,285.0 358.4,266.3 358.6,254.3 358.6,258.3 358.8,280.1 358.9,299.9 358.9,305.1 359.1,304.1 359.1,355.8 359.2,296.5 359.4,265.2 359.4,321.9 359.6,331.6 359.6,308.8 359.8,301.5 359.9,303.8 359.9,301.7 360.1,288.2 360.1,287.2 360.2,302.8 360.3,311.3 360.4,315.5 360.5,321.3 360.6,328.4 360.7,318.0 360.8,371.6 360.9,303.6 361.0,312.1 361.1,341.5 361.2,360.6 361.3,342.0 361.4,324.1 361.5,321.2 361.6,322.4 361.7,320.3 361.8,319.4 361.9,331.6 362.0,343.8 362.1,332.8 362.2,314.1 362.3,311.0 362.4,320.8 362.5,324.2 362.6,315.0 362.7,309.2 362.8,305.6 362.9,309.9 363.0,259.6 363.1,313.6 363.2,304.9 363.3,291.7 363.4,281.8 363.5,265.3 363.6,269.4 363.7,306.6 363.8,336.3 363.9,358.5 364.0,360.3 364.1,353.4 364.2,348.1 364.3,345.9 364.4,352.0 364.5,361.3 364.6,327.8 364.7,294.9 364.8,275.4 364.9,277.4 365.0,276.4 365.1,275.5 365.2,291.0 365.3,309.6 365.4,324.9 365.5,331.2 365.6,333.7 365.7,333.7 365.8,268.9 365.9,317.7 366.0,311.5 366.1,311.5 366.2,312.6 366.3,305.9 366.4,289.1 366.5,278.8 366.6,271.2 366.7,265.2 366.8,273.8 366.9,299.7 367.0,313.1 367.1,319.2 367.2,322.8 367.3,337.2 367.4,329.3 367.5,330.3 367.6,328.1 367.7,319.5 367.8,316.4 367.9,321.6 368.0,327.0 368.1,326.0 368.2,321.7 368.3,317.2 368.4,259.6 368.5,309.3 368.6,303.9 368.7,299.8 368.8,306.9 368.9,312.7 369.0,313.9 369.1,311.0 369.2,363.2 369.3,335.9 369.4,363.1 369.5,360.0 369.6,323.5 369.7,295.8 369.8,273.2 369.9,278.2 370.0,298.7 370.1,310.9 370.2,315.2 370.3,310.9 370.4,307.6 370.5,302.8 370.6,296.6 370.7,292.8 370.8,299.1 370.9,309.8 371.0,317.9 371.1,317.4 371.2,307.9 371.3,285.1 371.4,270.7 371.5,259.3 371.6,252.3 371.7,263.6 371.8,289.3 371.9,303.2 372.0,293.7 372.1,286.9 372.2,305.5 372.3,313.4 372.4,317.1 372.5,315.3 372.6,309.3 372.7,305.0 372.8,310.2 372.9,249.4 373.0,276.2 373.1,250.8 373.2,266.0 373.3,292.2 373.4,306.6 373.5,303.1 373.6,281.0 373.7,262.1 373.8,270.7 373.9,296.5 374.0,308.5 374.1,299.5 374.2,274.1 374.3,273.5 374.4,295.7 374.5,299.5 374.6,284.7 374.7,283.6 374.8,305.9 374.9,345.5 375.0,368.3 375.1,359.9 375.2,354.1 375.3,334.1 375.4,308.6 375.5,368.8 375.6,310.3 375.7,326.9 375.8,315.8 375.9,311.0 376.0,320.6 376.1,314.7 376.2,310.0 376.3,309.7 376.4,308.6 376.5,305.6 376.6,302.1 376.7,300.3 376.8,297.6 376.9,294.6 377.0,297.2 377.1,305.5 377.2,314.7 377.3,316.5 377.4,308.3 377.5,304.5 377.6,306.5 377.7,310.7 377.8,319.6 377.9,327.3 378.0,327.3 378.1,323.6 378.2,322.0 378.3,316.5 378.4,309.1 378.5,306.2 378.6,311.4 378.7,313.0 378.8,308.0 378.9,299.7 379.0,294.2 379.1,297.2 379.2,300.0 379.3,292.9 379.4,283.8 379.5,287.7 379.6,302.0 379.7,317.1 379.8,337.1 379.9,320.8 380.0,301.5 380.1,290.6 380.2,295.1 380.3,304.6 380.4,311.4 380.5,316.9 380.6,320.2 380.7,320.6 380.8,320.0 380.9,315.7 381.0,311.4 381.1,344.6 381.2,304.0 381.3,299.8 381.4,300.2 381.5,310.1 381.6,327.3 381.7,330.4 381.8,309.5 381.9,284.6 382.0,271.7 382.1,280.8 382.2,298.4 382.3,307.4 382.4,308.1 382.5,311.3 382.6,323.4 382.7,330.4 382.8,329.1 382.9,338.3 383.0,352.0 383.1,333.4 383.2,315.6 383.3,310.9 383.4,310.0 383.5,311.5 383.6,315.1 383.7,316.4 383.8,318.4 383.9,316.8 384.0,310.9 384.1,312.0 384.2,332.3 384.3,347.5 384.4,329.3 384.5,310.7 384.6,309.3 384.7,315.9 384.8,328.2 384.9,337.8 385.0,335.4 385.1,326.2 385.2,326.7 385.3,338.5 385.4,341.5 385.5,329.0 385.6,313.2 385.7,301.8 385.8,276.3 385.9,276.9 386.0,280.6 386.1,297.4 386.2,310.1 386.3,310.8 386.4,306.2 386.5,308.2 386.6,322.3 386.7,348.3 386.8,338.6 386.9,317.2 387.0,309.8 387.1,314.3 387.2,323.8 387.3,322.4 387.4,308.4 387.5,297.3 387.6,295.9 387.7,304.2 387.8,309.0 387.9,308.1 388.0,302.2 388.1,299.4 388.2,303.8 388.3,307.4 388.4,312.5 388.5,324.6 388.6,331.1 388.7,322.9 388.8,317.6 388.9,325.0 389.0,335.0 389.1,329.6 389.2,311.4 389.3,304.4 389.4,305.5 389.5,291.2 389.6,310.8 389.7,310.4 389.8,309.2 389.9,307.5 390.0,304.8 390.1,300.0 390.2,300.8 390.3,306.5 390.4,312.8 390.5,321.8 390.6,334.4 390.7,335.7 390.8,325.1 390.9,318.8 391.0,315.6 391.1,312.7 391.2,311.8 391.3,307.0 391.4,296.1 391.5,275.0 391.6,278.3 391.7,292.0 391.8,295.0 391.9,297.1 392.0,300.4 392.1,301.4 392.2,302.8 392.3,344.6 392.4,297.5 392.5,280.0 392.6,270.4 392.7,275.2 392.8,293.9 392.9,305.2 393.0,317.6 393.1,331.1 393.2,336.6 393.3,329.0 393.4,316.2 393.5,301.9 393.6,289.7 393.7,288.7 393.8,297.8 393.9,296.8 394.0,285.8 394.1,344.6 394.2,244.3 394.3,255.0 394.4,285.5 394.5,308.9 394.6,331.1 394.7,322.5 394.8,308.7 394.9,299.3 395.0,289.8 395.1,258.7 395.2,259.0 395.3,261.8 395.4,275.7 395.5,287.9 395.6,293.3 395.7,296.6 395.8,297.6 395.9,297.1 396.0,300.1 396.1,298.4 396.2,282.8 396.3,277.9 396.4,289.0 396.5,288.1 396.6,283.4 396.7,296.8 396.8,311.6 396.9,327.9 397.0,287.2 397.1,277.3 397.2,276.7 397.3,280.4 397.4,292.6 397.5,305.1 397.6,315.4 397.7,313.9 397.8,306.9 397.9,297.4 398.0,282.8 398.1,283.0 398.2,291.4 398.3,292.8 398.4,290.8 398.5,296.7 398.6,301.5 398.7,294.0 398.8,268.0 398.9,290.0 399.0,307.5 399.1,323.7 399.2,327.1 399.3,312.3 399.4,301.7 399.5,302.9 399.6,309.3 399.7,311.5 399.8,309.0 399.9,308.0 400.0,308.3 400.1,304.9 400.2,292.2 400.3,284.8 400.4,299.0 400.5,304.7 400.6,306.8 400.7,313.1 400.8,316.0 400.9,312.0 401.0,309.2 401.1,310.8 401.2,313.7 401.3,318.6 401.4,331.3 401.5,342.6 401.6,268.0 401.7,324.7 401.8,315.3 401.9,306.5 402.0,288.0 402.1,288.8 402.2,305.6 402.3,310.4 402.4,313.8 402.5,342.8 402.6,313.9 402.7,307.4 402.8,293.1 402.9,280.4 403.0,286.9 403.1,298.1 403.2,299.8 403.3,307.2 403.4,320.2 403.5,276.3 403.6,326.9 403.7,313.7 403.8,308.8 403.9,311.2 404.0,315.0 404.1,308.9 404.2,294.4 404.3,292.1 404.4,306.7 404.5,313.6 404.6,309.2 404.7,300.4 404.8,288.9 404.9,284.0 405.0,298.7 405.1,314.7 405.1,315.6 405.2,303.8 405.4,297.0 405.4,302.1 405.6,310.2 405.6,313.6 405.8,304.3 405.9,296.0 405.9,305.6 406.1,327.8 406.1,341.2 406.2,361.3 406.4,302.1 406.4,283.7 406.6,279.8 406.6,294.3 406.8,307.6 406.9,310.9 406.9,312.4 407.1,314.6 407.1,316.3 407.2,321.5 407.4,323.1 407.4,318.7 407.6,319.2 407.6,318.2 407.8,311.0 407.9,296.6 407.9,280.4 408.1,286.3 408.1,306.8 408.2,313.8 408.4,312.6 408.4,309.7 408.6,311.3 408.6,316.5 408.8,320.3 408.9,312.7 408.9,296.3 409.1,288.4 409.1,292.5 409.2,305.1 409.4,314.5 409.4,315.9 409.6,306.7 409.6,282.6 409.8,284.1 409.9,297.2 409.9,353.9 410.1,316.1 410.1,336.7 410.2,353.6 410.3,352.9 410.4,342.8 410.5,335.5 410.6,329.9 410.7,321.1 410.8,311.8 410.9,302.1 411.0,290.4 411.1,288.1 411.2,299.7 411.3,306.4 411.4,310.6 411.5,319.0 411.6,318.7 411.7,266.1 411.8,290.8 411.9,286.1 412.0,286.9 412.1,295.8 412.2,308.5 412.3,317.2 412.4,320.5 412.5,313.3 412.6,308.2 412.7,370.6 412.8,280.5 412.9,273.6 413.0,286.3 413.1,290.3 413.2,287.0 413.3,291.6 413.4,296.6 413.5,295.0 413.6,272.6 413.7,303.6 413.8,305.4 413.9,298.4 414.0,284.5 414.1,272.6 414.2,273.4 414.3,287.7 414.4,298.6 414.5,301.2 414.6,301.7 414.7,306.9 414.8,318.2 414.9,326.6 415.0,315.2 415.1,300.1 415.2,286.1 415.3,295.0 415.4,308.0 415.5,311.2 415.6,307.7 415.7,304.4 415.8,298.6 415.9,296.7 416.0,306.0 416.1,316.0 416.2,324.7 416.3,324.5 416.4,319.2 416.5,312.8 416.6,310.6 416.7,311.4 416.8,308.3 416.9,298.9 417.0,286.6 417.1,300.8 417.2,308.4 417.3,263.3 417.4,304.3 417.5,304.4 417.6,303.8 417.7,297.4 417.8,295.1 417.9,303.4 418.0,312.9 418.1,325.5 418.2,336.8 418.3,338.9 418.4,331.4 418.5,317.6 418.6,301.7 418.7,286.7 418.8,298.4 418.9,320.1 419.0,343.5 419.1,350.1 419.2,349.5 419.3,337.3 419.4,315.9 419.5,301.0 419.6,287.4 419.7,278.0 419.8,285.8 419.9,296.7 420.0,301.6 420.1,350.2 420.2,310.3 420.3,304.3 420.4,301.5 420.5,311.1 420.6,330.6 420.7,338.3 420.8,326.8 420.9,307.9 421.0,295.0 421.1,279.4 421.2,276.3 421.3,281.4 421.4,283.7 421.5,289.8 421.6,300.5 421.7,308.0 421.8,231.3 421.9,318.0 422.0,314.5 422.1,301.4 422.2,285.6 422.3,275.8 422.4,292.8 422.5,302.6 422.6,301.4 422.7,285.5 422.8,246.2 422.9,235.4 423.0,264.3 423.1,289.2 423.2,294.2 423.3,297.4 423.4,302.4 423.5,302.1 423.6,295.2 423.7,293.0 423.8,300.9 423.9,314.3 424.0,316.0 424.1,307.4 424.2,311.8 424.3,329.1 424.4,330.1 424.5,307.2 424.6,292.5 424.7,290.1 424.8,333.5 424.9,283.7 425.0,292.6 425.1,316.2 425.2,333.3 425.3,263.3 425.4,308.8 425.5,304.7 425.6,297.5 425.7,279.7 425.8,269.6 425.9,279.2 426.0,292.1 426.1,298.3 426.2,301.9 426.3,303.9 426.4,301.5 426.5,299.4 426.6,297.8 426.7,291.3 426.8,278.1 426.9,266.7 427.0,273.6 427.1,296.5 427.2,308.4 427.3,311.3 427.4,306.8 427.5,304.2 427.6,303.5 427.7,299.7 427.8,291.0 427.9,286.4 428.0,285.5 428.1,286.9 428.2,296.8 428.3,305.8 428.4,310.4 428.5,308.2 428.6,313.2 428.7,314.8 428.8,305.4 428.9,300.2 429.0,292.3 429.1,287.1 429.2,294.1 429.3,305.1 429.4,311.1 429.5,307.7 429.6,305.9 429.7,302.9 429.8,293.8 429.9,284.7 430.0,281.0 430.1,285.4 430.2,296.0 430.3,304.0 430.4,307.2 430.5,310.2 430.6,355.4 430.7,349.4 430.8,349.9 430.9,317.1 431.0,304.3 431.1,307.1 431.2,313.0 431.3,310.4 431.4,303.2 431.5,292.8 431.6,290.5 431.7,301.3 431.8,308.1 431.9,269.1 432.0,313.3 432.1,322.2 432.2,327.7 432.3,319.6 432.4,311.1 432.5,308.8 432.6,306.3 432.7,295.8 432.8,282.8 432.9,281.1 433.0,298.4 433.1,310.5 433.2,323.6 433.3,336.7 433.4,332.6 433.5,314.1 433.6,303.6 433.7,297.7 433.8,300.1 433.9,300.7 434.0,295.9 434.1,291.3 434.2,295.1 434.3,302.3 434.4,338.2 434.5,291.9 434.6,281.6 434.7,276.2 434.8,283.5 434.9,297.8 435.0,302.4 435.1,296.8 435.2,287.3 435.3,278.1 435.4,280.8 435.5,298.9 435.6,308.4 435.7,307.3 435.8,300.8 435.9,293.5 436.0,290.8 436.1,296.9 436.2,305.3 436.3,307.0 436.4,303.7 436.5,299.7 436.6,305.4 436.7,310.8 436.8,312.8 436.9,314.9 437.0,319.3 437.1,309.7 437.2,292.6 437.3,281.3 437.4,291.3 437.5,305.4 437.6,271.9 437.7,310.1 437.8,314.7 437.9,335.9 438.0,345.6 438.1,327.1 438.2,345.8 438.3,297.9 438.4,291.1 438.5,290.2 438.6,303.0 438.7,315.9 438.8,319.8 438.9,308.6 439.0,300.2 439.1,292.8 439.2,282.0 439.3,265.4 439.4,260.7 439.5,279.6 439.6,260.4 439.7,296.7 439.8,280.2 439.9,274.3 440.0,297.5 440.1,351.6 440.2,310.2 440.3,305.7 440.4,303.4 440.5,295.5 440.6,293.0 440.7,303.5 440.8,313.6 440.9,321.8 441.0,318.0 441.1,304.3 441.2,281.6 441.3,275.6 441.4,298.4 441.5,318.9 441.6,333.8 441.7,322.8 441.8,306.4 441.9,299.8 442.0,295.6 442.1,294.9 442.2,298.3 442.3,301.3 442.4,270.9 442.5,322.4 442.6,333.1 442.7,330.2 442.8,324.5 442.9,319.8 443.0,315.7 443.1,311.4 443.2,306.4 443.3,302.5 443.4,304.2 443.5,310.0 443.6,320.5 443.7,322.4 443.8,309.7 443.9,295.6 444.0,254.3 444.1,270.5 444.2,270.2 444.3,281.8 444.4,289.3 444.5,278.9 444.6,259.7 444.7,255.1 444.8,271.5 444.9,293.6 445.0,306.4 445.1,325.4 445.2,342.4 445.3,329.9 445.4,307.7 445.5,303.6 445.6,303.1 445.7,297.5 445.8,291.9 445.9,355.4 446.0,303.8 446.1,307.0 446.2,306.2 446.3,302.1 446.4,303.3 446.5,308.6 446.6,307.5 446.7,299.0 446.8,290.6 446.9,287.2 447.0,287.2 447.1,295.3 447.2,307.8 447.3,324.9 447.4,333.3 447.5,324.2 447.6,310.4 447.7,293.9 447.8,272.9 447.9,282.4 448.0,306.1 448.1,309.9 448.2,300.6 448.3,292.6 448.4,303.2 448.5,310.0 448.6,315.2 448.7,265.2 448.8,337.2 448.9,352.2 449.0,351.1 449.1,325.0 449.2,300.9 449.3,287.6 449.4,294.6 449.5,302.3 449.6,305.0 449.7,306.3 449.8,308.6 449.9,315.9 450.0,333.7 450.1,353.1 450.2,353.8 450.3,334.2 450.4,312.7 450.5,359.2 450.6,297.6 450.7,302.6 450.8,305.6 450.9,298.7 451.0,285.2 451.1,280.6 451.2,292.3 451.3,304.5 451.4,305.7 451.5,300.2 451.6,296.5 451.7,295.2 451.8,289.2 451.9,276.9 452.0,272.3 452.1,287.1 452.2,309.0 452.3,337.8 452.4,339.1 452.5,323.7 452.6,327.8 452.7,338.6 452.8,321.1 452.9,302.9 453.0,295.7 453.1,300.8 453.2,303.7 453.3,303.8 453.4,299.3 453.5,268.1 453.6,296.5 453.7,310.6 453.8,325.9 453.9,330.7 454.0,315.7 454.1,293.2 454.2,271.0 454.3,334.4 454.4,293.8 454.5,304.4 454.6,303.8 454.7,298.4 454.8,303.9 454.9,316.2 455.0,336.4 455.1,342.3 455.1,332.8 455.2,321.9 455.4,266.2 455.4,315.4 455.6,311.0 455.6,306.4 455.8,303.3 455.9,307.0 455.9,309.3 456.1,307.4 456.1,343.9 456.2,311.4 456.4,323.2 456.4,320.6 456.6,306.8 456.6,286.4 456.8,277.5 456.9,281.4 456.9,289.8 457.1,303.3 457.1,310.3 457.2,307.6 457.4,295.8 457.4,289.9 457.6,305.9 457.6,327.1 457.8,339.2 457.9,329.1 457.9,320.9 458.1,351.6 458.1,332.6 458.2,270.9 458.4,314.7 458.4,298.9 458.6,287.9 458.6,293.1 458.8,302.7 458.9,309.1 458.9,317.1 459.1,313.2 459.1,298.3 459.2,277.1 459.4,280.6 459.4,300.9 459.6,309.7 459.6,311.8 459.8,307.7 459.9,303.2 459.9,298.5 460.0,298.2 460.1,300.7 460.2,303.2 460.3,304.9 460.4,306.9 460.5,308.4 460.6,308.3 460.7,315.4 460.8,331.8 460.9,335.1 461.0,326.3 461.1,258.6 461.2,353.6 461.3,355.0 461.4,330.8 461.5,306.3 461.6,290.9 461.7,270.9 461.8,355.4 461.9,272.1 462.0,297.2 462.1,304.0 462.2,307.3 462.3,320.6 462.4,322.6 462.5,303.8 462.6,293.1 462.7,300.7 462.8,322.6 462.9,336.6 463.0,324.0 463.1,309.1 463.2,301.0 463.3,292.9 463.4,288.7 463.5,293.3 463.6,297.7 463.7,298.0 463.8,299.8 463.9,304.1 464.0,311.6 464.1,317.5 464.2,310.3 464.3,295.4 464.4,275.2 464.5,267.8 464.6,273.3 464.7,281.1 464.8,286.1 464.9,287.8 465.0,283.8 465.1,277.5 465.2,274.5 465.3,271.2 465.4,272.1 465.5,275.4 465.6,273.9 465.7,328.6 465.8,267.4 465.9,289.6 466.0,302.3 466.1,305.2 466.2,247.1 466.3,317.8 466.4,302.6 466.5,300.7 466.6,311.5 466.7,311.4 466.8,307.2 466.9,313.9 467.0,314.0 467.1,301.5 467.2,287.4 467.3,279.5 467.4,285.3 467.5,287.1 467.6,284.3 467.7,285.9 467.8,290.7 467.9,297.4 468.0,303.7 468.1,308.8 468.2,308.3 468.3,304.3 468.4,298.6 468.5,289.1 468.6,280.4 468.7,280.6 468.8,283.4 468.9,286.1 469.0,295.4 469.1,303.0 469.2,303.0 469.3,300.2 469.4,300.4 469.5,338.2 469.6,303.9 469.7,313.9 469.8,332.1 469.9,336.6 470.0,317.0 470.1,300.0 470.2,296.4 470.3,298.9 470.4,300.0 470.5,296.1 470.6,289.5 470.7,290.6 470.8,302.4 470.9,322.5 471.0,331.5 471.1,331.5 471.2,329.6 471.3,323.7 471.4,316.0 471.5,309.4 471.6,303.4 471.7,298.6 471.8,294.1 471.9,299.6 472.0,308.9 472.1,324.4 472.2,328.4 472.3,320.5 472.4,313.8 472.5,311.7 472.6,304.4 472.7,287.8 472.8,269.7 472.9,279.3 473.0,289.9 473.1,290.1 473.2,291.7 473.3,328.6 473.4,297.7 473.5,300.7 473.6,300.6 473.7,298.8 473.8,301.5 473.9,311.9 474.0,319.5 474.1,314.9 474.2,307.6 474.3,303.5 474.4,300.7 474.5,296.9 474.6,295.6 474.7,299.9 474.8,302.8 474.9,305.9 475.0,309.6 475.1,305.6 475.2,299.5 475.3,292.1 475.4,277.2 475.5,264.4 475.6,266.5 475.7,279.2 475.8,290.7 475.9,297.1 476.0,297.8 476.1,297.2 476.2,264.3 476.3,305.2 476.4,326.6 476.5,334.6 476.6,305.6 476.7,288.2 476.8,275.5 476.9,278.8 477.0,286.2 477.1,288.8 477.2,293.4 477.3,301.6 477.4,325.6 477.5,329.7 477.6,307.7 477.7,304.7 477.8,327.2 477.9,328.2 478.0,304.0 478.1,351.6 478.2,315.2 478.3,340.5 478.4,327.8 478.5,301.1 478.6,295.3 478.7,300.0 478.8,309.5 478.9,323.4 479.0,344.4 479.1,351.5 479.2,325.2 479.3,302.4 479.4,304.5 479.5,324.1 479.6,328.2 479.7,311.3 479.8,315.0 479.9,338.9 480.0,331.2 480.1,303.2 480.2,280.4 480.3,288.5 480.4,246.1 480.5,325.8 480.6,304.1 480.7,275.9 480.8,282.6 480.9,300.6 481.0,302.2 481.1,305.6 481.2,321.2 481.3,326.7 481.4,310.9 481.5,299.9 481.6,295.6 481.7,303.6 481.8,314.0 481.9,323.7 482.0,322.2 482.1,310.5 482.2,303.4 482.3,296.9 482.4,284.6 482.5,280.9 482.6,282.6 482.7,283.7 482.8,284.0 482.9,270.9 483.0,287.6 483.1,295.5 483.2,301.5 483.3,303.5 483.4,307.6 483.5,312.9 483.6,308.4 483.7,301.9 483.8,295.3 483.9,285.0 484.0,271.8 484.1,280.7 484.2,306.9 484.3,335.3 484.4,341.6 484.5,328.6 484.6,312.2 484.7,303.0 484.8,299.5 484.9,303.0 485.0,306.1 485.1,309.5 485.2,307.7 485.3,296.3 485.4,283.1 485.5,300.8 485.6,323.8 485.7,331.0 485.8,345.8 485.9,304.9 486.0,291.9 486.1,272.6 486.2,285.4 486.3,306.0 486.4,307.2 486.5,298.6 486.6,294.4 486.7,290.8 486.8,277.3 486.9,287.7 487.0,315.7 487.1,342.6 487.2,331.1 487.3,306.1 487.4,295.9 487.5,301.6 487.6,307.2 487.7,278.6 487.8,314.5 487.9,327.6 488.0,328.6 488.1,311.1 488.2,298.5 488.3,296.8 488.4,304.7 488.5,307.5 488.6,310.9 488.7,316.1 488.8,317.0 488.9,314.8 489.0,313.1 489.1,310.2 489.2,307.1 489.3,306.8 489.4,307.3 489.5,306.9 489.6,308.1 489.7,310.6 489.8,310.1 489.9,309.2 490.0,311.0 490.1,311.5 490.2,308.5 490.3,304.1 490.4,290.8 490.5,283.4 490.6,306.0 490.7,306.3 490.8,302.6 490.9,305.4 491.0,308.0 491.1,309.0 491.2,308.0 491.3,305.3 491.4,302.8 491.5,307.7 491.6,314.2 491.7,317.1 491.8,319.1 491.9,328.1 492.0,336.1 492.1,326.8 492.2,308.0 492.3,295.2 492.4,336.3 492.5,298.0 492.6,299.1 492.7,301.4 492.8,306.8 492.9,315.2 493.0,322.1 493.1,321.9 493.2,318.0 493.3,313.2 493.4,306.3 493.5,299.0 493.6,293.4 493.7,291.0 493.8,302.6 493.9,317.1 494.0,324.1 494.1,315.7 494.2,307.7 494.3,302.8 494.4,298.7 494.5,294.6 494.6,279.4 494.7,268.4 494.8,285.6 494.9,305.8 495.0,309.1 495.1,305.1 495.2,298.7 495.3,304.3 495.4,308.7 495.5,307.3 495.6,305.6 495.7,305.9 495.8,305.2 495.9,299.5 496.0,290.2 496.1,258.2 496.2,298.3 496.3,305.7 496.4,308.0 496.5,305.6 496.6,300.1 496.7,301.8 496.8,310.8 496.9,306.6 497.0,281.7 497.1,258.4 497.2,265.0 497.3,274.4 497.4,269.0 497.5,268.0 497.6,282.8 497.7,292.5 497.8,295.6 497.9,300.6 498.0,306.0 498.1,312.4 498.2,311.0 498.3,303.9 498.4,295.6 498.5,301.4 498.6,332.1 498.7,358.8 498.8,332.8 498.9,307.9 499.0,273.8 499.1,359.2 499.2,301.8 499.3,320.9 499.4,341.7 499.5,326.3 499.6,305.3 499.7,294.0 499.8,287.8 499.9,287.7 500.0,283.5 500.1,279.9 500.2,286.9 500.3,296.5 500.4,301.7 500.5,303.8 500.6,305.1 500.7,308.7 500.8,311.2 500.9,304.6 501.0,298.7 501.1,301.4 501.2,301.2 501.3,286.7 501.4,279.9 501.5,294.8 501.6,304.2 501.7,303.4 501.8,299.5 501.9,304.3 502.0,315.9 502.1,319.4 502.2,304.8 502.3,288.6 502.4,305.8 502.5,324.0 502.6,322.1 502.7,305.9 502.8,259.5 502.9,300.5 503.0,301.7 503.1,293.5 503.2,283.2 503.3,271.8 503.4,263.0 503.5,266.7 503.6,270.8 503.7,285.0 503.8,310.1 503.9,319.0 504.0,305.6 504.1,298.6 504.2,300.2 504.3,299.0 504.4,302.2 504.5,313.5 504.6,335.9 504.7,270.0 504.8,343.1 504.9,349.6 504.9,298.2 505.1,290.7 505.1,296.3 505.2,302.4 505.4,306.4 505.4,310.6 505.6,305.8 505.6,305.0 505.8,314.3 505.9,322.9 505.9,321.7 506.1,327.0 506.1,333.3 506.2,331.6 506.4,319.9 506.4,302.1 506.6,261.4 506.6,290.7 506.8,302.5 506.9,310.4 506.9,313.6 507.1,308.1 507.1,299.2 507.2,279.4 507.4,266.8 507.4,271.7 507.6,278.7 507.6,286.2 507.8,298.3 507.9,310.2 507.9,325.6 508.1,330.1 508.1,329.9 508.2,329.5 508.4,324.1 508.4,306.4 508.6,288.5 508.6,345.8 508.8,266.4 508.9,285.4 508.9,297.7 509.1,298.4 509.1,300.4 509.2,311.4 509.4,337.3 509.4,270.0 509.6,307.0 509.6,293.6 509.8,292.7 509.9,296.2 509.9,296.1 510.0,298.3 510.1,306.7 510.2,318.9 510.3,314.9 510.4,305.3 510.5,296.8 510.6,290.8 510.7,286.1 510.8,275.5 510.9,273.9 511.0,290.9 511.1,303.7 511.2,307.1 511.3,264.3 511.4,336.9 511.5,337.1 511.6,314.6 511.7,299.7 511.8,293.4 511.9,292.4 512.0,288.1 512.1,294.1 512.2,298.9 512.3,290.2 512.4,289.1 512.5,306.3 512.6,319.0 512.7,316.2 512.8,306.3 512.9,304.0 513.0,307.7 513.1,313.4 513.2,318.0 513.3,322.0 513.4,347.7 513.5,334.6 513.6,341.9 513.7,347.7 513.8,347.3 513.9,326.5 514.0,302.4 514.1,285.0 514.2,287.9 514.3,292.2 514.4,291.9 514.5,292.5 514.6,289.5 514.7,283.0 514.8,279.8 514.9,284.0 515.0,296.0 515.1,305.1 515.2,313.1 515.3,349.6 515.4,322.4 515.5,315.7 515.6,308.7 515.7,298.8 515.8,282.6 515.9,272.0 516.0,267.9 516.1,265.2 516.2,269.2 516.3,283.4 516.4,291.6 516.5,291.7 516.6,289.7 516.7,286.1 516.8,296.1 516.9,315.6 517.0,337.9 517.1,331.5 517.2,316.9 517.3,318.7 517.4,315.9 517.5,303.3 517.6,292.0 517.7,296.5 517.8,305.7 517.9,315.0 518.0,253.8 518.1,310.9 518.2,292.8 518.3,270.7 518.4,281.5 518.5,307.5 518.6,321.0 518.7,322.4 518.8,325.6 518.9,324.4 519.0,308.2 519.1,298.9 519.2,299.4 519.3,300.8 519.4,300.2 519.5,299.9 519.6,299.6 519.7,295.5 519.8,282.4 519.9,260.9 520.0,255.5 520.1,283.4 520.2,306.9 520.3,310.1 520.4,306.2 520.5,302.5 520.6,303.7 520.7,305.0 520.8,299.1 520.9,284.1 521.0,278.2 521.1,293.9 521.2,311.6 521.3,330.9 521.4,332.9 521.5,321.4 521.6,315.9 521.7,320.3 521.8,330.7 521.9,344.6 522.0,357.3 522.1,353.3 522.2,332.0 522.3,318.4 522.4,319.2 522.5,319.6 522.6,311.1 522.7,303.8 522.8,296.8 522.9,297.4 523.0,302.8 523.1,306.9 523.2,311.1 523.3,321.8 523.4,324.1 523.5,314.8 523.6,309.7 523.7,305.1 523.8,303.6 523.9,316.3 524.0,336.9 524.1,334.2 524.2,321.1 524.3,318.2 524.4,317.6 524.5,319.2 524.6,323.9 524.7,283.4 524.8,322.6 524.9,312.7 525.0,310.7 525.1,315.0 525.2,312.9 525.3,302.8 525.4,296.1 525.5,301.0 525.6,310.1 525.7,315.9 525.8,317.2 525.9,313.6 526.0,311.8 526.1,314.8 526.2,321.8 526.3,321.2 526.4,311.1 526.5,300.4 526.6,277.6 526.7,316.5 526.8,332.3 526.9,335.3 527.0,333.0 527.1,324.3 527.2,311.6 527.3,303.7 527.4,298.3 527.5,307.1 527.6,326.1 527.7,338.7 527.8,317.6 527.9,301.1 528.0,285.7 528.1,277.8 528.2,282.5 528.3,299.8 528.4,312.0 528.5,324.0 528.6,334.9 528.7,347.7 528.8,341.2 528.9,335.6 529.0,326.0 529.1,310.1 529.2,295.0 529.3,289.5 529.4,300.6 529.5,276.7 529.6,301.6 529.7,309.4 529.8,316.7 529.9,318.3 530.0,322.8 530.1,323.4 530.2,309.4 530.3,287.6 530.4,278.7 530.5,298.1 530.6,315.2 530.7,331.6 530.8,332.6 530.9,313.8 531.0,302.4 531.1,304.1 531.2,310.3 531.3,313.3 531.4,315.0 531.5,312.4 531.6,309.4 531.7,308.9 531.8,306.9 531.9,302.7 532.0,303.5 532.1,303.5 532.2,300.4 532.3,302.1" fill="none" stroke="#0000ff" stroke-width="0.6" stroke-linejoin="round"/>
<rect x="332.8" y="230.2" width="199.5" height="150.1" fill="none" stroke="#4a4a4a" stroke-width="1"/>
<line x1="332.8" y1="380.3" x2="332.8" y2="378.3" stroke="#4a4a4a" stroke-width="1"/>
<line x1="332.8" y1="230.2" x2="332.8" y2="232.2" stroke="#4a4a4a" stroke-width="1"/>
<text x="332.8" y="393.6" text-anchor="middle">0</text>
<line x1="382.7" y1="380.3" x2="382.7" y2="378.3" stroke="#4a4a4a" stroke-width="1"/>
<line x1="382.7" y1="230.2" x2="382.7" y2="232.2" stroke="#4a4a4a" stroke-width="1"/>
<text x="382.7" y="393.6" text-anchor="middle">500</text>
<line x1="432.5" y1="380.3" x2="432.5" y2="378.3" stroke="#4a4a4a" stroke-width="1"/>
<line x1="432.5" y1="230.2" x2="432.5" y2="232.2" stroke="#4a4a4a" stroke-width="1"/>
<text x="432.5" y="393.6" text-anchor="middle">1000</text>
<line x1="482.4" y1="380.3" x2="482.4" y2="378.3" stroke="#4a4a4a" stroke-width="1"/>
<line x1="482.4" y1="230.2" x2="482.4" y2="232.2" stroke="#4a4a4a" stroke-width="1"/>
<text x="482.4" y="393.6" text-anchor="middle">1500</text>
<line x1="532.3" y1="380.3" x2="532.3" y2="378.3" stroke="#4a4a4a" stroke-width="1"/>
<line x1="532.3" y1="230.2" x2="532.3" y2="232.2" stroke="#4a4a4a" stroke-width="1"/>
<text x="532.3" y="393.6" text-anchor="middle">2000</text>
<line x1="332.8" y1="380.3" x2="334.8" y2="380.3" stroke="#4a4a4a" stroke-width="1"/>
<line x1="532.3" y1="380.3" x2="530.3" y2="380.3" stroke="#4a4a4a" stroke-width="1"/>
<text x="329.2" y="384.2" text-anchor="end">-0.2</text>
<line x1="332.8" y1="342.8" x2="334.8" y2="342.8" stroke="#4a4a4a" stroke-width="1"/>
<line x1="532.3" y1="342.8" x2="530.3" y2="342.8" stroke="#4a4a4a" stroke-width="1"/>
<text x="329.2" y="346.7" text-anchor="end">-0.1</text>
<line x1="332.8" y1="305.2" x2="334.8" y2="305.2" stroke="#4a4a4a" stroke-width="1"/>
<line x1="532.3" y1="305.2" x2="530.3" y2="305.2" stroke="#4a4a4a" stroke-width="1"/>
<text x="329.2" y="309.1" text-anchor="end">0</text>
<line x1="332.8" y1="267.7" x2="334.8" y2="267.7" stroke="#4a4a4a" stroke-width="1"/>
<line x1="532.3" y1="267.7" x2="530.3" y2="267.7" stroke="#4a4a4a" stroke-width="1"/>
<text x="329.2" y="271.6" text-anchor="end">0.1</text>
<line x1="332.8" y1="230.2" x2="334.8" y2="230.2" stroke="#4a4a4a" stroke-width="1"/>
<line x1="532.3" y1="230.2" x2="530.3" y2="230.2" stroke="#4a4a4a" stroke-width="1"/>
<text x="329.2" y="234.1" text-anchor="end">0.2</text>
<text x="432.5" y="407.8" text-anchor="middle" font-size="11.6">Sampling point</text>
<text x="432.5" y="420.3" text-anchor="middle" font-size="11.6">(c)</text>
<text transform="translate(303.8,305.2) rotate(-90)" text-anchor="middle" font-size="11.6">Amplitude</text>
</svg>
</body></html>
